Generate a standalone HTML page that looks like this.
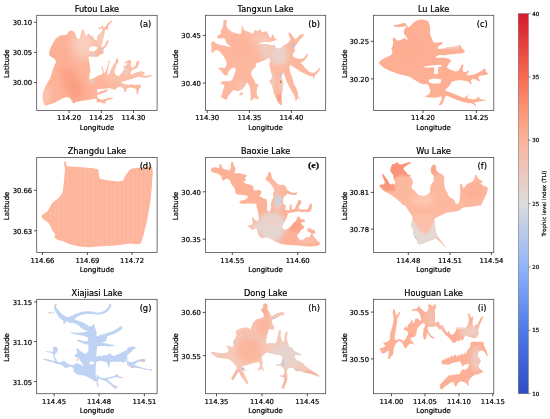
<!DOCTYPE html>
<html><head><meta charset="utf-8"><title>Lakes TLI</title>
<style>html,body{margin:0;padding:0;background:#fff}svg{display:block}text{stroke:#000;stroke-width:0.2px}</style></head>
<body>
<svg width="550" height="419" viewBox="0 0 550 419" font-family="'DejaVu Sans', 'Liberation Sans', sans-serif" fill="#000">
<rect width="550" height="419" fill="#fff"/>
<defs><filter id="b1" x="-50%" y="-50%" width="200%" height="200%"><feGaussianBlur stdDeviation="1.2"/></filter><filter id="b2" x="-50%" y="-50%" width="200%" height="200%"><feGaussianBlur stdDeviation="2.5"/></filter><filter id="b3" x="-50%" y="-50%" width="200%" height="200%"><feGaussianBlur stdDeviation="4"/></filter><filter id="b0" x="-50%" y="-50%" width="200%" height="200%"><feGaussianBlur stdDeviation="0.6"/></filter></defs>
<g id="panel-0">
<clipPath id="lk0"><path d="M56.0 63.3L56.0 62.1L55.0 59.3L52.3 57.6L50.3 56.2L49.0 54.5L49.1 52.2L49.8 49.9L50.7 47.6L51.5 45.9L53.2 42.5L55.3 39.3L57.8 37.0L60.7 35.6L64.1 35.0L67.0 34.7L68.1 32.2L69.8 30.8L72.1 30.8L74.4 32.0L75.6 34.5L76.4 37.3L77.9 39.3L80.1 38.5L80.5 35.6L81.3 32.2L82.4 29.3L83.6 29.7L84.2 32.2L85.3 35.6L86.5 37.3L87.6 35.0L88.7 33.6L89.9 35.0L91.0 36.2L92.4 35.6L93.1 37.3L94.5 39.3L96.2 40.8L97.3 41.3L97.3 56.4L88.3 56.4L88.7 59.1L89.2 63.3Z"/><path d="M89.6 36.4L91.0 36.8L92.4 36.2L92.8 37.3L91.9 38.2L93.3 39.5L94.6 40.9L96.0 41.4L96.9 39.5L97.4 37.3L97.8 35.5L99.2 34.5L100.5 32.7L101.9 31.4L102.8 29.5L102.4 28.2L100.5 28.6L99.2 29.1L98.3 28.2L98.7 27.3L100.1 27.5L101.5 26.8L102.2 25.0L102.8 25.5L103.1 27.3L104.2 27.7L105.5 26.4L106.9 25.0L107.8 23.6L109.2 22.3L111.0 20.7L112.2 20.5L112.4 21.1L111.0 22.5L109.6 24.1L108.5 25.6L107.8 27.3L108.3 29.1L107.4 30.0L106.0 29.1L104.9 30.0L104.6 31.8L104.4 33.6L103.7 35.9L103.3 38.2L102.8 40.5L102.4 42.7L101.5 45.0L101.0 46.8L102.4 47.3L103.7 46.4L104.9 45.0L105.5 43.2L106.5 41.4L107.4 40.0L108.3 40.2L108.3 41.8L107.4 43.8L106.5 45.9L105.3 47.3L104.2 48.6L103.3 50.0L103.7 51.4L103.3 53.2L102.4 54.5L101.0 54.1L99.8 55.0L98.7 55.9L97.8 56.8L96.5 56.4L95.1 55.9L93.7 56.4L92.4 55.9L91.0 55.5L90.5 54.1L89.6 53.6L88.7 55.0L88.3 56.4L87.8 58.0L85.1 58.0L85.1 42.7L84.6 35.0L86.0 36.4L87.4 35.0L88.3 33.6L89.2 34.5Z"/><path d="M55.7 62.7L54.3 65.9L53.0 69.3L51.8 72.7L50.7 76.7L49.5 79.6L47.5 82.5L45.7 85.9L44.3 89.3L43.1 92.8L42.7 96.2L42.9 99.7L43.8 102.5L44.9 105.2L46.9 105.6L49.2 104.5L52.1 103.7L54.9 102.5L57.8 101.0L60.7 99.4L63.5 97.9L66.4 97.1L68.7 97.4L70.4 98.5L71.8 100.8L72.9 103.3L74.4 103.1L76.1 101.7L78.4 101.4L81.3 100.8L84.2 100.6L87.6 100.2L91.0 99.4L94.5 98.7L97.3 98.5L97.3 76.3L93.3 78.5L89.4 79.6L89.2 76.3L89.8 73.0L90.6 70.2L90.0 67.5L89.4 62.7Z"/><path d="M96.7 75.8L99.3 75.4L101.6 74.5L103.0 72.7L102.2 69.3L101.4 66.2L102.0 65.9L103.0 68.7L103.9 72.2L104.8 73.1L105.9 71.0L107.1 67.6L108.2 63.6L108.9 63.6L108.2 67.6L107.3 71.6L107.1 73.9L108.5 74.7L109.8 73.5L110.8 70.4L112.1 67.6L113.6 64.7L114.8 62.7L116.7 62.7L116.3 65.3L115.3 68.2L114.4 71.0L114.8 73.5L116.3 75.4L118.2 76.2L119.7 75.4L121.1 73.5L122.8 71.6L124.3 69.3L124.5 67.4L123.1 67.1L122.9 66.4L125.1 66.2L126.6 64.7L128.0 63.6L130.3 62.7L130.9 64.1L130.5 66.2L132.0 67.4L134.3 67.0L135.8 65.3L136.2 62.7L138.5 62.7L138.5 64.7L137.7 67.0L135.8 68.5L133.1 69.6L131.2 71.2L130.0 73.5L131.2 74.5L134.8 73.3L138.9 71.7L142.3 71.4L144.2 72.2L144.6 73.3L143.1 74.5L141.7 75.1L144.9 76.1L148.4 75.6L151.3 74.9L152.0 75.7L149.3 76.7L145.8 77.7L142.4 77.4L139.4 76.5L136.2 77.2L132.8 78.4L129.3 79.5L125.9 80.6L122.5 81.8L120.6 82.9L124.5 84.1L128.9 85.0L131.4 84.3L133.7 85.0L137.1 84.8L139.9 84.8L141.1 85.9L140.7 87.5L139.0 88.4L138.4 91.6L137.8 94.6L136.7 94.3L136.6 91.2L136.0 88.9L133.7 88.0L131.4 87.6L129.1 87.6L126.7 88.4L126.0 91.1L125.2 92.6L124.2 91.6L124.2 89.1L122.6 88.0L120.6 86.8L118.3 87.1L116.0 88.4L114.8 89.9L113.1 89.1L110.8 88.4L107.9 88.2L103.9 88.8L100.4 89.1L96.7 88.9Z"/><path d="M96.7 93.0L100.4 91.6L103.9 90.3L106.7 89.2L108.0 89.8L106.9 91.4L103.9 92.6L101.0 93.7L98.1 94.8L96.7 95.3Z"/><path d="M96.7 97.4L98.7 98.5L101.0 99.7L103.9 99.4L106.7 98.5L109.6 97.7L112.5 97.5L112.9 98.4L110.3 99.4L107.3 100.3L105.3 101.4L105.7 103.1L104.1 103.8L101.6 102.6L99.3 101.9L96.7 102.5Z"/><path d="M108.2 63.3L108.5 60.8L109.4 60.6L109.6 63.3Z"/><path d="M115.3 63.3L115.9 60.3L116.7 58.3L117.9 58.5L118.3 60.8L118.1 63.3Z"/><path d="M123.6 63.3L125.7 62.0L127.7 60.6L130.0 60.1L131.2 61.4L131.4 63.3Z"/><path d="M136.6 63.3L137.1 61.1L138.0 60.4L139.0 61.3L139.0 63.3Z"/></clipPath><path d="M56.0 63.3L56.0 62.1L55.0 59.3L52.3 57.6L50.3 56.2L49.0 54.5L49.1 52.2L49.8 49.9L50.7 47.6L51.5 45.9L53.2 42.5L55.3 39.3L57.8 37.0L60.7 35.6L64.1 35.0L67.0 34.7L68.1 32.2L69.8 30.8L72.1 30.8L74.4 32.0L75.6 34.5L76.4 37.3L77.9 39.3L80.1 38.5L80.5 35.6L81.3 32.2L82.4 29.3L83.6 29.7L84.2 32.2L85.3 35.6L86.5 37.3L87.6 35.0L88.7 33.6L89.9 35.0L91.0 36.2L92.4 35.6L93.1 37.3L94.5 39.3L96.2 40.8L97.3 41.3L97.3 56.4L88.3 56.4L88.7 59.1L89.2 63.3Z" fill="#fdb49a"/><path d="M89.6 36.4L91.0 36.8L92.4 36.2L92.8 37.3L91.9 38.2L93.3 39.5L94.6 40.9L96.0 41.4L96.9 39.5L97.4 37.3L97.8 35.5L99.2 34.5L100.5 32.7L101.9 31.4L102.8 29.5L102.4 28.2L100.5 28.6L99.2 29.1L98.3 28.2L98.7 27.3L100.1 27.5L101.5 26.8L102.2 25.0L102.8 25.5L103.1 27.3L104.2 27.7L105.5 26.4L106.9 25.0L107.8 23.6L109.2 22.3L111.0 20.7L112.2 20.5L112.4 21.1L111.0 22.5L109.6 24.1L108.5 25.6L107.8 27.3L108.3 29.1L107.4 30.0L106.0 29.1L104.9 30.0L104.6 31.8L104.4 33.6L103.7 35.9L103.3 38.2L102.8 40.5L102.4 42.7L101.5 45.0L101.0 46.8L102.4 47.3L103.7 46.4L104.9 45.0L105.5 43.2L106.5 41.4L107.4 40.0L108.3 40.2L108.3 41.8L107.4 43.8L106.5 45.9L105.3 47.3L104.2 48.6L103.3 50.0L103.7 51.4L103.3 53.2L102.4 54.5L101.0 54.1L99.8 55.0L98.7 55.9L97.8 56.8L96.5 56.4L95.1 55.9L93.7 56.4L92.4 55.9L91.0 55.5L90.5 54.1L89.6 53.6L88.7 55.0L88.3 56.4L87.8 58.0L85.1 58.0L85.1 42.7L84.6 35.0L86.0 36.4L87.4 35.0L88.3 33.6L89.2 34.5Z" fill="#fdb49a"/><path d="M55.7 62.7L54.3 65.9L53.0 69.3L51.8 72.7L50.7 76.7L49.5 79.6L47.5 82.5L45.7 85.9L44.3 89.3L43.1 92.8L42.7 96.2L42.9 99.7L43.8 102.5L44.9 105.2L46.9 105.6L49.2 104.5L52.1 103.7L54.9 102.5L57.8 101.0L60.7 99.4L63.5 97.9L66.4 97.1L68.7 97.4L70.4 98.5L71.8 100.8L72.9 103.3L74.4 103.1L76.1 101.7L78.4 101.4L81.3 100.8L84.2 100.6L87.6 100.2L91.0 99.4L94.5 98.7L97.3 98.5L97.3 76.3L93.3 78.5L89.4 79.6L89.2 76.3L89.8 73.0L90.6 70.2L90.0 67.5L89.4 62.7Z" fill="#fdb49a"/><path d="M96.7 75.8L99.3 75.4L101.6 74.5L103.0 72.7L102.2 69.3L101.4 66.2L102.0 65.9L103.0 68.7L103.9 72.2L104.8 73.1L105.9 71.0L107.1 67.6L108.2 63.6L108.9 63.6L108.2 67.6L107.3 71.6L107.1 73.9L108.5 74.7L109.8 73.5L110.8 70.4L112.1 67.6L113.6 64.7L114.8 62.7L116.7 62.7L116.3 65.3L115.3 68.2L114.4 71.0L114.8 73.5L116.3 75.4L118.2 76.2L119.7 75.4L121.1 73.5L122.8 71.6L124.3 69.3L124.5 67.4L123.1 67.1L122.9 66.4L125.1 66.2L126.6 64.7L128.0 63.6L130.3 62.7L130.9 64.1L130.5 66.2L132.0 67.4L134.3 67.0L135.8 65.3L136.2 62.7L138.5 62.7L138.5 64.7L137.7 67.0L135.8 68.5L133.1 69.6L131.2 71.2L130.0 73.5L131.2 74.5L134.8 73.3L138.9 71.7L142.3 71.4L144.2 72.2L144.6 73.3L143.1 74.5L141.7 75.1L144.9 76.1L148.4 75.6L151.3 74.9L152.0 75.7L149.3 76.7L145.8 77.7L142.4 77.4L139.4 76.5L136.2 77.2L132.8 78.4L129.3 79.5L125.9 80.6L122.5 81.8L120.6 82.9L124.5 84.1L128.9 85.0L131.4 84.3L133.7 85.0L137.1 84.8L139.9 84.8L141.1 85.9L140.7 87.5L139.0 88.4L138.4 91.6L137.8 94.6L136.7 94.3L136.6 91.2L136.0 88.9L133.7 88.0L131.4 87.6L129.1 87.6L126.7 88.4L126.0 91.1L125.2 92.6L124.2 91.6L124.2 89.1L122.6 88.0L120.6 86.8L118.3 87.1L116.0 88.4L114.8 89.9L113.1 89.1L110.8 88.4L107.9 88.2L103.9 88.8L100.4 89.1L96.7 88.9Z" fill="#fdb49a"/><path d="M96.7 93.0L100.4 91.6L103.9 90.3L106.7 89.2L108.0 89.8L106.9 91.4L103.9 92.6L101.0 93.7L98.1 94.8L96.7 95.3Z" fill="#fdb49a"/><path d="M96.7 97.4L98.7 98.5L101.0 99.7L103.9 99.4L106.7 98.5L109.6 97.7L112.5 97.5L112.9 98.4L110.3 99.4L107.3 100.3L105.3 101.4L105.7 103.1L104.1 103.8L101.6 102.6L99.3 101.9L96.7 102.5Z" fill="#fdb49a"/><path d="M108.2 63.3L108.5 60.8L109.4 60.6L109.6 63.3Z" fill="#fdb49a"/><path d="M115.3 63.3L115.9 60.3L116.7 58.3L117.9 58.5L118.3 60.8L118.1 63.3Z" fill="#fdb49a"/><path d="M123.6 63.3L125.7 62.0L127.7 60.6L130.0 60.1L131.2 61.4L131.4 63.3Z" fill="#fdb49a"/><path d="M136.6 63.3L137.1 61.1L138.0 60.4L139.0 61.3L139.0 63.3Z" fill="#fdb49a"/><g clip-path="url(#lk0)"><ellipse cx="83.6" cy="44.5" rx="11.8" ry="14.1" fill="#f9d2c4" opacity="0.9" filter="url(#b3)"/><ellipse cx="101.8" cy="37.7" rx="5.0" ry="10.2" fill="#f6d3c8" opacity="0.8" filter="url(#b2)"/><ellipse cx="93.8" cy="54.7" rx="2.9" ry="1.6" fill="#d3d6dc" opacity="0.95" filter="url(#b1)"/><ellipse cx="102.4" cy="50.4" rx="1.6" ry="1.4" fill="#d3d6dc" opacity="0.9" filter="url(#b0)"/><ellipse cx="91.8" cy="81.2" rx="3.2" ry="1.8" fill="#e2d2cd" opacity="0.9" filter="url(#b1)"/><ellipse cx="126.7" cy="74.4" rx="24.9" ry="12.5" fill="#fcc6b2" opacity="0.65" filter="url(#b3)"/><ellipse cx="125.6" cy="71.0" rx="2.5" ry="3.2" fill="#e8d3cb" opacity="0.85" filter="url(#b1)"/><ellipse cx="123.5" cy="85.7" rx="3.4" ry="1.4" fill="#ecd0c6" opacity="0.9" filter="url(#b1)"/><ellipse cx="113.1" cy="68.1" rx="1.4" ry="2.7" fill="#ecd0c6" opacity="0.8" filter="url(#b1)"/><path d="M59.8 67.1L70.0 68.3L81.4 80.8L84.8 94.4L79.1 103.4L70.0 98.9L63.2 83.0Z" fill="#fb9c80" opacity="0.9" filter="url(#b3)"/><ellipse cx="60.9" cy="53.5" rx="7.9" ry="10.2" fill="#fca98d" opacity="0.5" filter="url(#b3)"/><ellipse cx="45.5" cy="95.5" rx="5.4" ry="10.2" fill="#fcc6b2" opacity="0.8" filter="url(#b2)"/></g><path d="M89.6 48.2L91.0 46.8L93.3 46.4L95.5 46.5L97.1 47.3L97.6 48.6L96.5 49.5L95.1 50.5L94.2 51.4L92.8 51.4L91.9 50.5L91.0 51.4L89.6 50.9L88.9 49.5Z" fill="#fff"/>
<rect x="36.7" y="15.3" width="120.4" height="95.1" fill="none" stroke="#444" stroke-width="0.75"/>
<path d="M69.1 110.4v2.6M101.3 110.4v2.6M133.5 110.4v2.6M36.7 22.3h-2.6M36.7 52.4h-2.6M36.7 82.5h-2.6" stroke="#222" stroke-width="0.8" fill="none"/>
<text x="69.1" y="120.4" font-size="6.86" text-anchor="middle">114.20</text>
<text x="101.3" y="120.4" font-size="6.86" text-anchor="middle">114.25</text>
<text x="133.5" y="120.4" font-size="6.86" text-anchor="middle">114.30</text>
<text x="32.2" y="25.2" font-size="6.840000000000001" text-anchor="end">30.10</text>
<text x="32.2" y="55.2" font-size="6.840000000000001" text-anchor="end">30.05</text>
<text x="32.2" y="85.3" font-size="6.840000000000001" text-anchor="end">30.00</text>
<text x="96.9" y="11.6" font-size="8.2" text-anchor="middle">Futou Lake</text>
<text x="96.9" y="129.9" font-size="6.94" text-anchor="middle">Longitude</text>
<text transform="translate(9.2 63.8) rotate(-90)" font-size="6.94" text-anchor="middle">Latitude</text>
<text x="145.5" y="26.9" font-size="8.3" text-anchor="middle">(a)</text>
</g>
<g id="panel-1">
<clipPath id="lk1"><path d="M226.8 63.3L225.6 59.7L223.9 56.8L222.2 54.5L220.5 52.8L218.8 51.1L217.0 49.9L215.3 50.5L213.6 51.7L212.1 53.4L211.3 50.5L211.7 47.6L211.0 44.8L211.3 42.5L212.5 41.1L213.9 41.3L215.3 42.7L217.8 43.9L221.1 45.1L224.5 45.8L227.9 46.6L231.6 47.2L229.7 45.7L227.5 44.1L225.9 41.9L225.2 39.3L223.3 38.1L219.3 38.8L217.2 37.7L217.4 35.8L219.3 34.7L221.1 33.3L220.6 31.3L221.7 29.3L222.9 26.5L223.3 23.2L223.3 20.7L225.1 19.8L227.0 20.5L226.8 22.4L226.3 25.3L227.5 28.2L229.8 30.5L232.5 32.2L236.0 33.3L239.4 33.9L241.3 33.3L241.6 29.9L241.8 26.5L242.8 26.1L243.5 29.3L244.7 30.6L247.0 31.2L249.3 32.2L251.6 33.3L253.2 33.9L253.8 31.6L255.0 29.9L256.6 31.0L258.3 30.5L260.0 29.3L261.2 30.5L261.8 32.2L263.5 32.2L266.3 31.0L266.3 41.9L262.3 42.2L259.5 42.7L259.1 43.6L261.2 44.3L266.3 44.3L266.3 59.4L262.3 61.1L258.9 62.4L256.0 63.3Z"/><path d="M265.7 44.3L269.4 44.8L272.3 45.7L273.8 44.6L274.9 46.2L276.3 48.2L277.5 48.8L280.3 48.2L282.6 46.5L284.9 44.8L287.2 43.6L288.9 41.9L290.4 39.6L289.4 36.2L288.2 33.3L289.4 32.2L291.2 33.9L292.9 36.2L294.2 37.9L295.4 39.4L297.5 37.3L299.8 35.0L302.1 34.1L304.0 34.6L302.8 36.8L300.5 39.1L298.8 41.3L297.1 43.6L295.4 45.9L294.2 48.2L295.4 50.5L293.6 52.8L292.6 55.7L294.7 57.4L297.5 58.5L300.4 59.1L303.8 58.0L305.6 55.7L306.8 53.7L308.0 54.4L306.8 57.4L305.1 59.7L302.8 61.4L300.4 63.3L270.6 63.3L270.1 60.8L269.4 58.0L267.1 58.5L265.7 59.2Z"/><path d="M265.7 31.0L267.1 32.2L268.1 33.9L269.2 36.8L270.8 37.9L272.0 35.4L272.9 34.2L273.8 36.2L274.7 38.5L277.0 39.1L275.4 40.4L272.9 41.1L270.8 41.9L265.7 42.0Z"/><path d="M227.0 62.7L226.2 65.9L224.5 68.2L222.2 67.8L219.9 67.6L218.2 68.2L219.3 69.6L221.1 70.4L222.2 72.7L223.9 74.5L226.2 75.8L227.7 74.5L228.4 72.2L229.7 69.9L231.9 68.2L235.0 67.6L235.7 69.9L234.6 73.3L233.4 76.7L232.1 80.0L229.7 81.3L226.8 81.1L223.9 81.3L221.1 81.6L220.5 83.0L222.2 84.2L224.5 85.3L223.9 87.6L222.8 90.5L222.2 93.4L221.1 96.2L222.0 97.9L224.5 99.1L226.2 99.9L227.4 97.9L228.5 95.6L230.2 93.4L231.9 91.6L233.7 90.0L235.7 90.6L237.7 91.2L239.6 90.5L242.3 89.3L244.6 86.5L246.3 83.4L247.7 82.7L249.1 85.3L250.3 88.8L250.3 92.8L250.9 96.2L250.3 99.1L250.9 100.8L252.6 99.7L254.3 97.9L256.6 98.7L258.9 99.2L258.7 97.4L257.2 95.6L256.6 91.6L257.2 87.6L258.7 85.3L258.0 83.6L256.1 84.3L254.5 80.4L252.2 77.0L250.9 74.5L251.8 71.0L253.2 68.7L255.5 67.6L256.0 65.3L255.5 62.7Z"/><path d="M240.5 92.8L242.3 92.2L243.1 93.4L241.7 95.1L240.0 95.6L239.2 94.5Z"/><path d="M268.9 62.7L270.0 67.6L271.2 72.2L272.3 76.7L270.8 80.0L269.4 80.2L270.1 82.5L271.2 84.3L272.0 85.3L272.9 89.3L273.5 92.8L275.2 96.2L276.9 99.7L278.0 102.5L279.8 104.8L281.5 105.6L282.1 103.1L281.8 99.7L281.5 96.2L282.1 92.8L282.6 89.3L283.0 85.9L283.2 83.6L282.3 80.2L281.8 76.7L282.6 73.9L283.4 73.1L284.9 76.7L286.6 81.3L288.9 85.9L291.2 90.5L294.1 95.1L295.2 98.5L295.6 101.0L296.7 100.3L297.5 98.1L299.8 97.4L300.4 98.5L298.8 99.4L298.3 96.2L297.6 91.6L295.9 87.6L293.7 83.6L293.1 80.2L291.9 76.7L290.8 73.3L289.8 69.9L289.4 67.0L290.3 65.1L293.5 67.0L297.0 69.3L300.4 71.6L303.8 73.3L307.3 75.0L310.1 76.2L312.4 75.8L313.0 78.5L313.9 78.8L314.7 75.8L316.5 73.9L318.2 72.2L319.7 69.9L320.1 68.2L319.4 67.8L318.2 69.3L316.5 71.0L314.7 72.4L312.4 73.1L310.1 71.9L307.9 71.0L306.7 68.7L305.0 68.2L304.4 66.4L302.7 64.7L300.4 62.7Z"/></clipPath><path d="M226.8 63.3L225.6 59.7L223.9 56.8L222.2 54.5L220.5 52.8L218.8 51.1L217.0 49.9L215.3 50.5L213.6 51.7L212.1 53.4L211.3 50.5L211.7 47.6L211.0 44.8L211.3 42.5L212.5 41.1L213.9 41.3L215.3 42.7L217.8 43.9L221.1 45.1L224.5 45.8L227.9 46.6L231.6 47.2L229.7 45.7L227.5 44.1L225.9 41.9L225.2 39.3L223.3 38.1L219.3 38.8L217.2 37.7L217.4 35.8L219.3 34.7L221.1 33.3L220.6 31.3L221.7 29.3L222.9 26.5L223.3 23.2L223.3 20.7L225.1 19.8L227.0 20.5L226.8 22.4L226.3 25.3L227.5 28.2L229.8 30.5L232.5 32.2L236.0 33.3L239.4 33.9L241.3 33.3L241.6 29.9L241.8 26.5L242.8 26.1L243.5 29.3L244.7 30.6L247.0 31.2L249.3 32.2L251.6 33.3L253.2 33.9L253.8 31.6L255.0 29.9L256.6 31.0L258.3 30.5L260.0 29.3L261.2 30.5L261.8 32.2L263.5 32.2L266.3 31.0L266.3 41.9L262.3 42.2L259.5 42.7L259.1 43.6L261.2 44.3L266.3 44.3L266.3 59.4L262.3 61.1L258.9 62.4L256.0 63.3Z" fill="#fdb9a0"/><path d="M265.7 44.3L269.4 44.8L272.3 45.7L273.8 44.6L274.9 46.2L276.3 48.2L277.5 48.8L280.3 48.2L282.6 46.5L284.9 44.8L287.2 43.6L288.9 41.9L290.4 39.6L289.4 36.2L288.2 33.3L289.4 32.2L291.2 33.9L292.9 36.2L294.2 37.9L295.4 39.4L297.5 37.3L299.8 35.0L302.1 34.1L304.0 34.6L302.8 36.8L300.5 39.1L298.8 41.3L297.1 43.6L295.4 45.9L294.2 48.2L295.4 50.5L293.6 52.8L292.6 55.7L294.7 57.4L297.5 58.5L300.4 59.1L303.8 58.0L305.6 55.7L306.8 53.7L308.0 54.4L306.8 57.4L305.1 59.7L302.8 61.4L300.4 63.3L270.6 63.3L270.1 60.8L269.4 58.0L267.1 58.5L265.7 59.2Z" fill="#fdb9a0"/><path d="M265.7 31.0L267.1 32.2L268.1 33.9L269.2 36.8L270.8 37.9L272.0 35.4L272.9 34.2L273.8 36.2L274.7 38.5L277.0 39.1L275.4 40.4L272.9 41.1L270.8 41.9L265.7 42.0Z" fill="#fdb9a0"/><path d="M227.0 62.7L226.2 65.9L224.5 68.2L222.2 67.8L219.9 67.6L218.2 68.2L219.3 69.6L221.1 70.4L222.2 72.7L223.9 74.5L226.2 75.8L227.7 74.5L228.4 72.2L229.7 69.9L231.9 68.2L235.0 67.6L235.7 69.9L234.6 73.3L233.4 76.7L232.1 80.0L229.7 81.3L226.8 81.1L223.9 81.3L221.1 81.6L220.5 83.0L222.2 84.2L224.5 85.3L223.9 87.6L222.8 90.5L222.2 93.4L221.1 96.2L222.0 97.9L224.5 99.1L226.2 99.9L227.4 97.9L228.5 95.6L230.2 93.4L231.9 91.6L233.7 90.0L235.7 90.6L237.7 91.2L239.6 90.5L242.3 89.3L244.6 86.5L246.3 83.4L247.7 82.7L249.1 85.3L250.3 88.8L250.3 92.8L250.9 96.2L250.3 99.1L250.9 100.8L252.6 99.7L254.3 97.9L256.6 98.7L258.9 99.2L258.7 97.4L257.2 95.6L256.6 91.6L257.2 87.6L258.7 85.3L258.0 83.6L256.1 84.3L254.5 80.4L252.2 77.0L250.9 74.5L251.8 71.0L253.2 68.7L255.5 67.6L256.0 65.3L255.5 62.7Z" fill="#fdb9a0"/><path d="M240.5 92.8L242.3 92.2L243.1 93.4L241.7 95.1L240.0 95.6L239.2 94.5Z" fill="#fdb9a0"/><path d="M268.9 62.7L270.0 67.6L271.2 72.2L272.3 76.7L270.8 80.0L269.4 80.2L270.1 82.5L271.2 84.3L272.0 85.3L272.9 89.3L273.5 92.8L275.2 96.2L276.9 99.7L278.0 102.5L279.8 104.8L281.5 105.6L282.1 103.1L281.8 99.7L281.5 96.2L282.1 92.8L282.6 89.3L283.0 85.9L283.2 83.6L282.3 80.2L281.8 76.7L282.6 73.9L283.4 73.1L284.9 76.7L286.6 81.3L288.9 85.9L291.2 90.5L294.1 95.1L295.2 98.5L295.6 101.0L296.7 100.3L297.5 98.1L299.8 97.4L300.4 98.5L298.8 99.4L298.3 96.2L297.6 91.6L295.9 87.6L293.7 83.6L293.1 80.2L291.9 76.7L290.8 73.3L289.8 69.9L289.4 67.0L290.3 65.1L293.5 67.0L297.0 69.3L300.4 71.6L303.8 73.3L307.3 75.0L310.1 76.2L312.4 75.8L313.0 78.5L313.9 78.8L314.7 75.8L316.5 73.9L318.2 72.2L319.7 69.9L320.1 68.2L319.4 67.8L318.2 69.3L316.5 71.0L314.7 72.4L312.4 73.1L310.1 71.9L307.9 71.0L306.7 68.7L305.0 68.2L304.4 66.4L302.7 64.7L300.4 62.7Z" fill="#fdb9a0"/><g clip-path="url(#lk1)"><ellipse cx="278.5" cy="54.7" rx="9.5" ry="10.9" fill="#ead3cb" opacity="0.95" filter="url(#b2)"/><ellipse cx="265.3" cy="49.0" rx="6.3" ry="11.3" fill="#efcdc2" opacity="0.9" filter="url(#b2)"/><ellipse cx="259.4" cy="39.9" rx="7.9" ry="6.8" fill="#f8d0c2" opacity="0.7" filter="url(#b3)"/><ellipse cx="277.1" cy="80.8" rx="2.3" ry="15.9" fill="#fdb9a2" opacity="0.9" filter="url(#b1)"/><ellipse cx="273.0" cy="83.0" rx="1.8" ry="11.3" fill="#ead3cb" opacity="0.8" filter="url(#b1)"/><ellipse cx="281.6" cy="83.0" rx="1.8" ry="11.3" fill="#ead3cb" opacity="0.8" filter="url(#b1)"/><ellipse cx="279.2" cy="97.8" rx="1.8" ry="4.1" fill="#f78e72" opacity="0.8" filter="url(#b1)"/><ellipse cx="280.7" cy="81.9" rx="0.9" ry="1.4" fill="#f26a4a" opacity="0.9" filter="url(#b0)"/><ellipse cx="280.5" cy="75.1" rx="0.7" ry="2.3" fill="#a9c4ee" opacity="0.9" filter="url(#b0)"/><ellipse cx="293.0" cy="45.6" rx="1.4" ry="2.0" fill="#a9c4ee" opacity="0.9" filter="url(#b0)"/><ellipse cx="241.3" cy="89.8" rx="3.2" ry="9.1" fill="#f4c4b5" opacity="0.7" filter="url(#b1)"/><ellipse cx="239.0" cy="49.0" rx="13.6" ry="11.3" fill="#fdb096" opacity="0.5" filter="url(#b3)"/></g>
<rect x="205.4" y="15.3" width="120.3" height="95.1" fill="none" stroke="#444" stroke-width="0.75"/>
<path d="M207.2 110.4v2.6M249.4 110.4v2.6M291.4 110.4v2.6M205.4 35.4h-2.6M205.4 83.1h-2.6" stroke="#222" stroke-width="0.8" fill="none"/>
<text x="207.2" y="120.4" font-size="6.86" text-anchor="middle">114.30</text>
<text x="249.4" y="120.4" font-size="6.86" text-anchor="middle">114.35</text>
<text x="291.4" y="120.4" font-size="6.86" text-anchor="middle">114.40</text>
<text x="200.9" y="38.2" font-size="6.840000000000001" text-anchor="end">30.45</text>
<text x="200.9" y="85.9" font-size="6.840000000000001" text-anchor="end">30.40</text>
<text x="265.6" y="11.6" font-size="8.2" text-anchor="middle">Tangxun Lake</text>
<text x="265.6" y="129.9" font-size="6.94" text-anchor="middle">Longitude</text>
<text transform="translate(178.0 63.8) rotate(-90)" font-size="6.94" text-anchor="middle">Latitude</text>
<text x="314.1" y="26.9" font-size="8.3" text-anchor="middle">(b)</text>
</g>
<g id="panel-2">
<clipPath id="lk2"><path d="M378.2 63.3L381.0 60.3L384.5 58.0L387.9 56.5L390.2 55.7L391.9 53.9L392.5 51.1L391.3 48.8L392.7 45.9L393.1 42.5L392.7 38.5L393.6 37.3L395.4 39.1L397.7 40.8L400.5 40.2L402.8 39.1L404.5 37.9L406.3 39.6L407.6 41.1L407.4 38.5L405.7 36.2L404.2 33.9L403.7 31.6L404.5 29.3L406.3 27.0L405.7 25.9L403.4 26.5L400.5 27.0L397.1 27.0L394.2 26.5L393.1 25.5L395.4 25.1L398.8 24.4L401.7 23.6L404.0 22.8L405.7 23.6L407.2 25.9L408.5 27.6L409.9 26.5L411.4 24.7L413.1 23.0L414.9 21.6L417.1 20.5L420.0 19.6L422.9 19.4L425.7 20.2L428.0 21.3L429.2 23.6L429.8 26.5L430.3 29.3L429.8 32.2L430.3 35.0L431.5 37.9L432.6 40.8L434.3 43.1L434.3 63.3Z"/><path d="M433.7 43.1L437.4 42.5L440.9 42.3L443.2 42.5L442.0 44.2L439.7 45.4L438.0 46.5L437.4 48.2L439.7 49.1L443.2 48.8L446.6 47.6L450.1 47.1L453.5 46.8L456.9 46.2L459.2 45.0L460.9 45.4L461.5 47.6L463.2 49.4L465.2 51.4L463.8 52.8L460.9 53.4L456.9 53.7L452.9 54.2L448.9 54.5L445.5 55.1L442.6 55.3L440.3 54.8L438.6 55.3L436.3 56.5L435.1 57.6L438.6 58.0L443.2 57.6L446.6 58.3L449.5 59.1L451.2 60.8L450.3 62.2L448.7 63.3L433.7 63.3Z"/><path d="M378.7 62.7L381.6 65.9L384.5 68.2L389.1 70.4L393.6 72.2L398.2 73.9L402.8 75.0L407.4 76.2L410.8 77.3L413.1 79.0L416.0 80.8L418.9 82.5L421.2 83.8L424.0 84.3L426.9 84.1L428.6 85.0L429.2 87.6L430.3 90.5L429.8 93.0L428.0 95.1L424.6 96.0L426.0 97.1L429.8 97.4L434.3 97.4L434.3 62.7Z"/><path d="M433.7 62.7L448.9 62.7L448.3 65.3L446.6 67.0L448.9 68.7L452.3 70.4L455.8 71.6L458.1 71.0L459.8 68.7L460.9 66.4L462.1 64.4L463.6 64.7L463.2 67.0L462.4 69.3L463.2 71.6L465.5 72.2L467.8 70.4L469.0 71.0L467.8 73.3L466.1 74.5L468.4 75.6L471.8 75.0L475.3 73.9L478.1 72.7L480.4 71.6L482.7 69.9L484.5 68.2L485.6 69.3L485.8 71.6L487.7 73.3L487.9 74.5L485.6 75.0L482.7 75.4L479.9 75.8L478.1 77.3L479.3 79.6L479.9 81.1L478.1 81.3L476.4 80.0L474.7 79.0L472.4 79.3L470.7 80.2L471.3 82.5L471.6 84.5L470.5 84.5L469.3 82.5L467.3 81.3L464.4 80.8L461.5 80.2L458.7 80.2L455.8 80.8L452.9 81.3L451.2 82.5L450.1 84.8L448.3 87.1L446.0 89.1L444.9 90.3L447.8 91.4L451.2 92.8L454.6 94.2L458.1 95.6L461.5 97.1L464.4 97.9L466.1 96.2L467.3 95.1L467.9 96.2L467.0 97.9L469.5 98.7L473.0 99.4L475.9 99.1L477.6 97.4L478.7 96.8L479.3 98.5L482.2 99.7L485.0 99.7L486.2 100.3L484.5 101.0L481.6 101.0L479.3 101.4L477.6 101.9L475.3 101.9L474.1 103.1L475.9 104.5L476.4 105.6L474.7 105.4L473.0 104.0L470.7 103.1L468.4 103.3L465.5 102.5L462.7 101.9L459.8 100.8L456.9 99.9L454.1 98.7L451.2 97.4L448.3 96.2L446.0 95.6L444.9 97.4L443.7 100.2L443.2 102.5L442.0 104.2L439.7 105.6L438.6 104.8L440.3 102.5L441.5 99.7L441.8 97.4L440.9 96.2L438.6 97.1L436.3 97.6L433.7 97.9Z"/></clipPath><path d="M378.2 63.3L381.0 60.3L384.5 58.0L387.9 56.5L390.2 55.7L391.9 53.9L392.5 51.1L391.3 48.8L392.7 45.9L393.1 42.5L392.7 38.5L393.6 37.3L395.4 39.1L397.7 40.8L400.5 40.2L402.8 39.1L404.5 37.9L406.3 39.6L407.6 41.1L407.4 38.5L405.7 36.2L404.2 33.9L403.7 31.6L404.5 29.3L406.3 27.0L405.7 25.9L403.4 26.5L400.5 27.0L397.1 27.0L394.2 26.5L393.1 25.5L395.4 25.1L398.8 24.4L401.7 23.6L404.0 22.8L405.7 23.6L407.2 25.9L408.5 27.6L409.9 26.5L411.4 24.7L413.1 23.0L414.9 21.6L417.1 20.5L420.0 19.6L422.9 19.4L425.7 20.2L428.0 21.3L429.2 23.6L429.8 26.5L430.3 29.3L429.8 32.2L430.3 35.0L431.5 37.9L432.6 40.8L434.3 43.1L434.3 63.3Z" fill="#fdaf94"/><path d="M433.7 43.1L437.4 42.5L440.9 42.3L443.2 42.5L442.0 44.2L439.7 45.4L438.0 46.5L437.4 48.2L439.7 49.1L443.2 48.8L446.6 47.6L450.1 47.1L453.5 46.8L456.9 46.2L459.2 45.0L460.9 45.4L461.5 47.6L463.2 49.4L465.2 51.4L463.8 52.8L460.9 53.4L456.9 53.7L452.9 54.2L448.9 54.5L445.5 55.1L442.6 55.3L440.3 54.8L438.6 55.3L436.3 56.5L435.1 57.6L438.6 58.0L443.2 57.6L446.6 58.3L449.5 59.1L451.2 60.8L450.3 62.2L448.7 63.3L433.7 63.3Z" fill="#fdaf94"/><path d="M378.7 62.7L381.6 65.9L384.5 68.2L389.1 70.4L393.6 72.2L398.2 73.9L402.8 75.0L407.4 76.2L410.8 77.3L413.1 79.0L416.0 80.8L418.9 82.5L421.2 83.8L424.0 84.3L426.9 84.1L428.6 85.0L429.2 87.6L430.3 90.5L429.8 93.0L428.0 95.1L424.6 96.0L426.0 97.1L429.8 97.4L434.3 97.4L434.3 62.7Z" fill="#fdaf94"/><path d="M433.7 62.7L448.9 62.7L448.3 65.3L446.6 67.0L448.9 68.7L452.3 70.4L455.8 71.6L458.1 71.0L459.8 68.7L460.9 66.4L462.1 64.4L463.6 64.7L463.2 67.0L462.4 69.3L463.2 71.6L465.5 72.2L467.8 70.4L469.0 71.0L467.8 73.3L466.1 74.5L468.4 75.6L471.8 75.0L475.3 73.9L478.1 72.7L480.4 71.6L482.7 69.9L484.5 68.2L485.6 69.3L485.8 71.6L487.7 73.3L487.9 74.5L485.6 75.0L482.7 75.4L479.9 75.8L478.1 77.3L479.3 79.6L479.9 81.1L478.1 81.3L476.4 80.0L474.7 79.0L472.4 79.3L470.7 80.2L471.3 82.5L471.6 84.5L470.5 84.5L469.3 82.5L467.3 81.3L464.4 80.8L461.5 80.2L458.7 80.2L455.8 80.8L452.9 81.3L451.2 82.5L450.1 84.8L448.3 87.1L446.0 89.1L444.9 90.3L447.8 91.4L451.2 92.8L454.6 94.2L458.1 95.6L461.5 97.1L464.4 97.9L466.1 96.2L467.3 95.1L467.9 96.2L467.0 97.9L469.5 98.7L473.0 99.4L475.9 99.1L477.6 97.4L478.7 96.8L479.3 98.5L482.2 99.7L485.0 99.7L486.2 100.3L484.5 101.0L481.6 101.0L479.3 101.4L477.6 101.9L475.3 101.9L474.1 103.1L475.9 104.5L476.4 105.6L474.7 105.4L473.0 104.0L470.7 103.1L468.4 103.3L465.5 102.5L462.7 101.9L459.8 100.8L456.9 99.9L454.1 98.7L451.2 97.4L448.3 96.2L446.0 95.6L444.9 97.4L443.7 100.2L443.2 102.5L442.0 104.2L439.7 105.6L438.6 104.8L440.3 102.5L441.5 99.7L441.8 97.4L440.9 96.2L438.6 97.1L436.3 97.6L433.7 97.9Z" fill="#fdaf94"/><g clip-path="url(#lk2)"><ellipse cx="451.2" cy="46.7" rx="9.1" ry="2.3" fill="#f7d0c3" opacity="0.9" filter="url(#b1)"/><ellipse cx="407.0" cy="49.0" rx="13.6" ry="13.6" fill="#fdab8f" opacity="0.4" filter="url(#b3)"/></g><path d="M424.1 66.6L428.6 65.7L434.5 65.2L441.2 64.8L441.4 66.6L438.2 67.0L437.9 74.1L434.1 74.1L434.3 67.3L428.6 67.4L424.3 67.4Z" fill="#fff"/><path d="M429.4 79.4L433.2 78.6L440.5 78.9L441.4 81.4L439.7 83.4L433.2 83.5L429.5 82.7L428.6 80.9Z" fill="#fff"/>
<rect x="373.5" y="15.3" width="120.3" height="95.1" fill="none" stroke="#444" stroke-width="0.75"/>
<path d="M423.0 110.4v2.6M476.4 110.4v2.6M373.5 41.3h-2.6M373.5 78.9h-2.6" stroke="#222" stroke-width="0.8" fill="none"/>
<text x="423.0" y="120.4" font-size="6.86" text-anchor="middle">114.20</text>
<text x="476.4" y="120.4" font-size="6.86" text-anchor="middle">114.25</text>
<text x="369.0" y="44.1" font-size="6.840000000000001" text-anchor="end">30.25</text>
<text x="369.0" y="81.8" font-size="6.840000000000001" text-anchor="end">30.20</text>
<text x="433.6" y="11.6" font-size="8.2" text-anchor="middle">Lu Lake</text>
<text x="433.6" y="129.9" font-size="6.94" text-anchor="middle">Longitude</text>
<text transform="translate(346.6 63.8) rotate(-90)" font-size="6.94" text-anchor="middle">Latitude</text>
<text x="482.2" y="26.9" font-size="8.3" text-anchor="middle">(c)</text>
</g>
<g id="panel-3">
<clipPath id="lk3"><path d="M63.7 162.0L65.5 161.5L66.6 166.1L70.0 166.5L81.4 167.2L92.7 168.3L98.4 169.5L99.0 174.0L99.5 178.5L104.0 179.7L110.8 180.8L117.6 181.5L123.3 180.8L124.9 176.3L126.7 174.0L129.0 170.6L131.2 168.8L136.9 167.9L142.6 167.2L149.4 166.5L152.1 167.2L152.8 172.9L152.1 179.7L151.7 186.5L151.2 193.3L150.5 200.1L149.4 206.9L148.2 213.7L147.1 220.5L145.3 227.3L143.7 234.1L142.1 239.8L140.8 243.6L136.9 244.3L131.2 243.6L124.4 244.3L115.4 245.4L106.3 245.9L97.2 246.6L88.2 247.2L79.1 246.6L70.0 244.3L63.2 241.3L57.5 239.8L54.6 237.5L55.3 234.1L52.3 230.7L50.7 226.2L48.5 222.8L45.1 220.5L42.3 218.2L41.7 215.5L43.9 213.7L47.3 211.4L49.6 208.0L51.9 203.5L54.1 201.2L57.5 198.9L60.9 195.5L62.8 191.0L63.7 184.2L64.3 177.4L65.0 170.6L64.6 166.1Z"/></clipPath><path d="M63.7 162.0L65.5 161.5L66.6 166.1L70.0 166.5L81.4 167.2L92.7 168.3L98.4 169.5L99.0 174.0L99.5 178.5L104.0 179.7L110.8 180.8L117.6 181.5L123.3 180.8L124.9 176.3L126.7 174.0L129.0 170.6L131.2 168.8L136.9 167.9L142.6 167.2L149.4 166.5L152.1 167.2L152.8 172.9L152.1 179.7L151.7 186.5L151.2 193.3L150.5 200.1L149.4 206.9L148.2 213.7L147.1 220.5L145.3 227.3L143.7 234.1L142.1 239.8L140.8 243.6L136.9 244.3L131.2 243.6L124.4 244.3L115.4 245.4L106.3 245.9L97.2 246.6L88.2 247.2L79.1 246.6L70.0 244.3L63.2 241.3L57.5 239.8L54.6 237.5L55.3 234.1L52.3 230.7L50.7 226.2L48.5 222.8L45.1 220.5L42.3 218.2L41.7 215.5L43.9 213.7L47.3 211.4L49.6 208.0L51.9 203.5L54.1 201.2L57.5 198.9L60.9 195.5L62.8 191.0L63.7 184.2L64.3 177.4L65.0 170.6L64.6 166.1Z" fill="#fdb096"/><g clip-path="url(#lk3)"><rect x="36.00" y="157" width="0.55" height="96" fill="#ffd2be" opacity="0.5"/><rect x="37.30" y="157" width="0.55" height="96" fill="#ffd2be" opacity="0.5"/><rect x="38.60" y="157" width="0.55" height="96" fill="#ffd2be" opacity="0.5"/><rect x="39.90" y="157" width="0.55" height="96" fill="#ffd2be" opacity="0.5"/><rect x="41.20" y="157" width="0.55" height="96" fill="#ffd2be" opacity="0.5"/><rect x="42.50" y="157" width="0.55" height="96" fill="#ffd2be" opacity="0.5"/><rect x="43.80" y="157" width="0.55" height="96" fill="#ffd2be" opacity="0.5"/><rect x="45.10" y="157" width="0.55" height="96" fill="#ffd2be" opacity="0.5"/><rect x="46.40" y="157" width="0.55" height="96" fill="#ffd2be" opacity="0.5"/><rect x="47.70" y="157" width="0.55" height="96" fill="#ffd2be" opacity="0.5"/><rect x="49.00" y="157" width="0.55" height="96" fill="#ffd2be" opacity="0.5"/><rect x="50.30" y="157" width="0.55" height="96" fill="#ffd2be" opacity="0.5"/><rect x="51.60" y="157" width="0.55" height="96" fill="#ffd2be" opacity="0.5"/><rect x="52.90" y="157" width="0.55" height="96" fill="#ffd2be" opacity="0.5"/><rect x="54.20" y="157" width="0.55" height="96" fill="#ffd2be" opacity="0.5"/><rect x="55.50" y="157" width="0.55" height="96" fill="#ffd2be" opacity="0.5"/><rect x="56.80" y="157" width="0.55" height="96" fill="#ffd2be" opacity="0.5"/><rect x="58.10" y="157" width="0.55" height="96" fill="#ffd2be" opacity="0.5"/><rect x="59.40" y="157" width="0.55" height="96" fill="#ffd2be" opacity="0.5"/><rect x="60.70" y="157" width="0.55" height="96" fill="#ffd2be" opacity="0.5"/><rect x="62.00" y="157" width="0.55" height="96" fill="#ffd2be" opacity="0.5"/><rect x="63.30" y="157" width="0.55" height="96" fill="#ffd2be" opacity="0.5"/><rect x="64.60" y="157" width="0.55" height="96" fill="#ffd2be" opacity="0.5"/><rect x="65.90" y="157" width="0.55" height="96" fill="#ffd2be" opacity="0.5"/><rect x="67.20" y="157" width="0.55" height="96" fill="#ffd2be" opacity="0.5"/><rect x="68.50" y="157" width="0.55" height="96" fill="#ffd2be" opacity="0.5"/><rect x="69.80" y="157" width="0.55" height="96" fill="#ffd2be" opacity="0.5"/><rect x="71.10" y="157" width="0.55" height="96" fill="#ffd2be" opacity="0.5"/><rect x="72.40" y="157" width="0.55" height="96" fill="#ffd2be" opacity="0.5"/><rect x="73.70" y="157" width="0.55" height="96" fill="#ffd2be" opacity="0.5"/><rect x="75.00" y="157" width="0.55" height="96" fill="#ffd2be" opacity="0.5"/><rect x="76.30" y="157" width="0.55" height="96" fill="#ffd2be" opacity="0.5"/><rect x="77.60" y="157" width="0.55" height="96" fill="#ffd2be" opacity="0.5"/><rect x="78.90" y="157" width="0.55" height="96" fill="#ffd2be" opacity="0.5"/><rect x="80.20" y="157" width="0.55" height="96" fill="#ffd2be" opacity="0.5"/><rect x="81.50" y="157" width="0.55" height="96" fill="#ffd2be" opacity="0.5"/><rect x="82.80" y="157" width="0.55" height="96" fill="#ffd2be" opacity="0.5"/><rect x="84.10" y="157" width="0.55" height="96" fill="#ffd2be" opacity="0.5"/><rect x="85.40" y="157" width="0.55" height="96" fill="#ffd2be" opacity="0.5"/><rect x="86.70" y="157" width="0.55" height="96" fill="#ffd2be" opacity="0.5"/><rect x="88.00" y="157" width="0.55" height="96" fill="#ffd2be" opacity="0.5"/><rect x="89.30" y="157" width="0.55" height="96" fill="#ffd2be" opacity="0.5"/><rect x="90.60" y="157" width="0.55" height="96" fill="#ffd2be" opacity="0.5"/><rect x="91.90" y="157" width="0.55" height="96" fill="#ffd2be" opacity="0.5"/><rect x="93.20" y="157" width="0.55" height="96" fill="#ffd2be" opacity="0.5"/><rect x="94.50" y="157" width="0.55" height="96" fill="#ffd2be" opacity="0.5"/><rect x="95.80" y="157" width="0.55" height="96" fill="#ffd2be" opacity="0.5"/><rect x="97.10" y="157" width="0.55" height="96" fill="#ffd2be" opacity="0.5"/><rect x="98.40" y="157" width="0.55" height="96" fill="#ffd2be" opacity="0.5"/><rect x="99.70" y="157" width="0.55" height="96" fill="#ffd2be" opacity="0.5"/><rect x="101.00" y="157" width="0.55" height="96" fill="#ffd2be" opacity="0.5"/><rect x="102.30" y="157" width="0.55" height="96" fill="#ffd2be" opacity="0.5"/><rect x="103.60" y="157" width="0.55" height="96" fill="#ffd2be" opacity="0.5"/><rect x="104.90" y="157" width="0.55" height="96" fill="#ffd2be" opacity="0.5"/><rect x="106.20" y="157" width="0.55" height="96" fill="#ffd2be" opacity="0.5"/><rect x="107.50" y="157" width="0.55" height="96" fill="#ffd2be" opacity="0.5"/><rect x="108.80" y="157" width="0.55" height="96" fill="#ffd2be" opacity="0.5"/><rect x="110.10" y="157" width="0.55" height="96" fill="#ffd2be" opacity="0.5"/><rect x="111.40" y="157" width="0.55" height="96" fill="#ffd2be" opacity="0.5"/><rect x="112.70" y="157" width="0.55" height="96" fill="#ffd2be" opacity="0.5"/><rect x="114.00" y="157" width="0.55" height="96" fill="#ffd2be" opacity="0.5"/><rect x="115.30" y="157" width="0.55" height="96" fill="#ffd2be" opacity="0.5"/><rect x="116.60" y="157" width="0.55" height="96" fill="#ffd2be" opacity="0.5"/><rect x="117.90" y="157" width="0.55" height="96" fill="#ffd2be" opacity="0.5"/><rect x="119.20" y="157" width="0.55" height="96" fill="#ffd2be" opacity="0.5"/><rect x="120.50" y="157" width="0.55" height="96" fill="#ffd2be" opacity="0.5"/><rect x="121.80" y="157" width="0.55" height="96" fill="#ffd2be" opacity="0.5"/><rect x="123.10" y="157" width="0.55" height="96" fill="#ffd2be" opacity="0.5"/><rect x="124.40" y="157" width="0.55" height="96" fill="#ffd2be" opacity="0.5"/><rect x="125.70" y="157" width="0.55" height="96" fill="#ffd2be" opacity="0.5"/><rect x="127.00" y="157" width="0.55" height="96" fill="#ffd2be" opacity="0.5"/><rect x="128.30" y="157" width="0.55" height="96" fill="#ffd2be" opacity="0.5"/><rect x="129.60" y="157" width="0.55" height="96" fill="#ffd2be" opacity="0.5"/><rect x="130.90" y="157" width="0.55" height="96" fill="#ffd2be" opacity="0.5"/><rect x="132.20" y="157" width="0.55" height="96" fill="#ffd2be" opacity="0.5"/><rect x="133.50" y="157" width="0.55" height="96" fill="#ffd2be" opacity="0.5"/><rect x="134.80" y="157" width="0.55" height="96" fill="#ffd2be" opacity="0.5"/><rect x="136.10" y="157" width="0.55" height="96" fill="#ffd2be" opacity="0.5"/><rect x="137.40" y="157" width="0.55" height="96" fill="#ffd2be" opacity="0.5"/><rect x="138.70" y="157" width="0.55" height="96" fill="#ffd2be" opacity="0.5"/><rect x="140.00" y="157" width="0.55" height="96" fill="#ffd2be" opacity="0.5"/><rect x="141.30" y="157" width="0.55" height="96" fill="#ffd2be" opacity="0.5"/><rect x="142.60" y="157" width="0.55" height="96" fill="#ffd2be" opacity="0.5"/><rect x="143.90" y="157" width="0.55" height="96" fill="#ffd2be" opacity="0.5"/><rect x="145.20" y="157" width="0.55" height="96" fill="#ffd2be" opacity="0.5"/><rect x="146.50" y="157" width="0.55" height="96" fill="#ffd2be" opacity="0.5"/><rect x="147.80" y="157" width="0.55" height="96" fill="#ffd2be" opacity="0.5"/><rect x="149.10" y="157" width="0.55" height="96" fill="#ffd2be" opacity="0.5"/><rect x="150.40" y="157" width="0.55" height="96" fill="#ffd2be" opacity="0.5"/><rect x="151.70" y="157" width="0.55" height="96" fill="#ffd2be" opacity="0.5"/><rect x="153.00" y="157" width="0.55" height="96" fill="#ffd2be" opacity="0.5"/><rect x="154.30" y="157" width="0.55" height="96" fill="#ffd2be" opacity="0.5"/><rect x="155.60" y="157" width="0.55" height="96" fill="#ffd2be" opacity="0.5"/><rect x="156.90" y="157" width="0.55" height="96" fill="#ffd2be" opacity="0.5"/><rect x="158.20" y="157" width="0.55" height="96" fill="#ffd2be" opacity="0.5"/></g>
<rect x="36.7" y="157.6" width="120.4" height="94.8" fill="none" stroke="#444" stroke-width="0.75"/>
<path d="M42.4 252.4v2.6M87.4 252.4v2.6M132.1 252.4v2.6M36.7 190.3h-2.6M36.7 230.8h-2.6" stroke="#222" stroke-width="0.8" fill="none"/>
<text x="42.4" y="262.6" font-size="6.86" text-anchor="middle">114.66</text>
<text x="87.4" y="262.6" font-size="6.86" text-anchor="middle">114.69</text>
<text x="132.1" y="262.6" font-size="6.86" text-anchor="middle">114.72</text>
<text x="32.2" y="193.2" font-size="6.840000000000001" text-anchor="end">30.66</text>
<text x="32.2" y="233.7" font-size="6.840000000000001" text-anchor="end">30.63</text>
<text x="96.9" y="153.9" font-size="8.2" text-anchor="middle">Zhangdu Lake</text>
<text x="96.9" y="272.0" font-size="6.94" text-anchor="middle">Longitude</text>
<text transform="translate(9.2 205.9) rotate(-90)" font-size="6.94" text-anchor="middle">Latitude</text>
<text x="145.5" y="169.2" font-size="8.3" text-anchor="middle">(d)</text>
</g>
<g id="panel-4">
<clipPath id="lk4"><path d="M210.7 169.6L211.9 167.9L214.2 167.3L216.5 167.5L218.8 167.9L219.7 166.2L219.3 164.4L220.5 163.9L221.6 165.6L222.2 167.9L223.9 169.0L226.2 169.6L228.5 170.5L230.5 169.0L231.1 166.2L230.8 163.3L231.9 161.8L233.4 162.7L233.7 165.6L235.0 167.3L235.7 169.0L235.0 171.3L234.2 173.0L236.5 173.3L239.4 173.3L242.3 174.0L245.1 174.4L246.5 175.3L246.0 177.0L244.6 177.8L245.7 179.3L245.1 181.1L243.4 181.6L244.6 183.1L246.9 183.9L249.7 184.5L252.0 185.6L253.7 187.0L253.2 188.8L254.3 190.5L256.6 190.2L259.5 190.0L261.2 191.1L261.4 193.1L260.6 194.8L258.9 195.7L261.2 197.1L263.5 198.2L266.3 199.2L266.3 205.3L258.0 205.3L256.6 204.0L253.2 203.4L248.6 203.4L244.0 203.7L240.5 203.4L239.1 202.3L240.5 201.1L242.8 200.3L245.1 199.4L247.4 198.2L248.0 196.5L246.3 195.4L242.8 195.0L239.4 194.8L236.5 194.2L235.4 192.5L235.0 189.6L234.2 187.4L232.5 185.6L231.1 183.9L230.5 181.1L228.5 179.3L226.2 178.8L224.3 179.9L222.8 181.1L222.0 178.8L221.1 175.9L218.8 174.2L215.9 173.0L213.0 172.5L211.3 171.3Z"/><path d="M265.7 178.2L267.7 175.3L268.5 172.5L269.7 171.7L270.8 173.0L271.5 175.9L272.3 178.2L274.0 180.5L276.3 182.8L278.0 184.5L280.3 185.1L283.2 184.7L284.9 185.6L286.4 187.4L286.9 189.6L288.9 191.1L291.2 192.5L294.1 193.1L296.0 192.3L297.2 192.7L296.7 194.2L294.7 195.0L291.8 194.8L288.9 193.9L287.2 193.7L285.5 195.4L283.8 197.1L283.0 199.4L283.2 202.3L283.8 205.3L270.6 205.3L271.2 202.3L272.3 199.4L273.8 196.5L272.9 194.8L273.5 192.5L274.6 190.8L274.0 188.5L272.3 186.2L270.6 183.9L268.3 181.6L265.7 179.9Z"/><path d="M265.7 199.2L266.9 200.0L267.1 202.8L267.1 205.3L265.7 205.3Z"/><path d="M256.0 204.7L257.2 208.4L258.0 211.9L258.7 215.3L258.9 218.7L258.0 221.0L255.5 220.5L253.7 218.7L252.6 217.0L252.0 217.8L252.6 220.5L252.9 223.3L250.9 225.0L248.6 225.6L247.7 226.5L249.7 227.3L250.9 229.1L252.6 230.0L254.3 228.5L256.0 227.9L257.2 229.6L257.7 232.5L258.3 235.0L260.0 237.1L262.3 238.2L264.6 237.8L266.3 237.1L266.3 204.7Z"/><path d="M265.7 204.7L267.1 204.7L266.9 207.9L267.4 210.7L268.9 211.9L270.6 210.2L271.2 207.3L270.8 204.7L285.7 204.7L285.7 207.3L284.9 209.6L286.5 212.2L287.9 214.1L287.0 217.3L285.6 220.0L283.8 222.8L282.4 225.4L282.2 227.9L284.3 229.6L286.6 229.6L288.9 227.9L291.2 226.2L292.6 223.9L294.1 222.2L296.0 221.0L297.0 218.2L298.1 216.5L299.8 216.5L300.4 218.7L301.5 219.3L304.4 219.7L305.2 221.0L303.8 222.2L301.5 222.2L301.0 223.9L302.7 225.6L304.4 226.8L303.8 228.5L302.1 229.1L300.4 230.8L299.3 233.1L297.5 234.2L297.0 235.9L298.7 238.2L300.4 239.9L303.8 239.4L305.6 237.6L309.6 237.1L310.9 235.0L311.3 233.1L309.6 232.5L307.5 231.1L307.3 229.1L309.0 227.9L310.9 228.5L312.1 230.2L313.6 229.6L315.1 230.8L315.5 233.1L314.2 233.6L312.8 233.6L313.0 235.9L314.7 237.6L315.9 239.1L317.0 241.1L319.3 241.9L320.1 243.4L319.3 245.1L316.5 246.0L311.9 246.5L306.1 246.2L300.4 245.8L294.7 245.3L288.9 245.1L284.3 244.5L279.8 243.4L275.2 241.4L270.6 238.8L265.7 236.8Z"/><path d="M284.7 209.5L288.4 210.5L292.9 209.5L295.2 208.2L295.6 206.8L296.5 204.5L297.9 201.8L298.8 199.8L300.2 200.0L301.5 201.4L301.1 203.6L299.7 205.0L298.5 207.3L299.3 209.1L302.0 209.5L306.5 209.5L308.4 208.2L309.3 205.5L310.2 203.6L311.5 203.6L312.0 205.9L311.5 209.1L310.2 211.4L307.9 212.3L304.7 211.8L302.0 212.3L299.3 211.4L296.5 211.4L293.8 212.3L290.2 212.7L287.9 213.2L286.5 212.3L282.9 212.3L282.9 209.5Z"/><path d="M289.5 210.2L289.7 206.4L290.6 204.1L291.5 204.5L291.6 206.8L291.8 210.0Z"/></clipPath><path d="M210.7 169.6L211.9 167.9L214.2 167.3L216.5 167.5L218.8 167.9L219.7 166.2L219.3 164.4L220.5 163.9L221.6 165.6L222.2 167.9L223.9 169.0L226.2 169.6L228.5 170.5L230.5 169.0L231.1 166.2L230.8 163.3L231.9 161.8L233.4 162.7L233.7 165.6L235.0 167.3L235.7 169.0L235.0 171.3L234.2 173.0L236.5 173.3L239.4 173.3L242.3 174.0L245.1 174.4L246.5 175.3L246.0 177.0L244.6 177.8L245.7 179.3L245.1 181.1L243.4 181.6L244.6 183.1L246.9 183.9L249.7 184.5L252.0 185.6L253.7 187.0L253.2 188.8L254.3 190.5L256.6 190.2L259.5 190.0L261.2 191.1L261.4 193.1L260.6 194.8L258.9 195.7L261.2 197.1L263.5 198.2L266.3 199.2L266.3 205.3L258.0 205.3L256.6 204.0L253.2 203.4L248.6 203.4L244.0 203.7L240.5 203.4L239.1 202.3L240.5 201.1L242.8 200.3L245.1 199.4L247.4 198.2L248.0 196.5L246.3 195.4L242.8 195.0L239.4 194.8L236.5 194.2L235.4 192.5L235.0 189.6L234.2 187.4L232.5 185.6L231.1 183.9L230.5 181.1L228.5 179.3L226.2 178.8L224.3 179.9L222.8 181.1L222.0 178.8L221.1 175.9L218.8 174.2L215.9 173.0L213.0 172.5L211.3 171.3Z" fill="#fdb197"/><path d="M265.7 178.2L267.7 175.3L268.5 172.5L269.7 171.7L270.8 173.0L271.5 175.9L272.3 178.2L274.0 180.5L276.3 182.8L278.0 184.5L280.3 185.1L283.2 184.7L284.9 185.6L286.4 187.4L286.9 189.6L288.9 191.1L291.2 192.5L294.1 193.1L296.0 192.3L297.2 192.7L296.7 194.2L294.7 195.0L291.8 194.8L288.9 193.9L287.2 193.7L285.5 195.4L283.8 197.1L283.0 199.4L283.2 202.3L283.8 205.3L270.6 205.3L271.2 202.3L272.3 199.4L273.8 196.5L272.9 194.8L273.5 192.5L274.6 190.8L274.0 188.5L272.3 186.2L270.6 183.9L268.3 181.6L265.7 179.9Z" fill="#fdb197"/><path d="M265.7 199.2L266.9 200.0L267.1 202.8L267.1 205.3L265.7 205.3Z" fill="#fdb197"/><path d="M256.0 204.7L257.2 208.4L258.0 211.9L258.7 215.3L258.9 218.7L258.0 221.0L255.5 220.5L253.7 218.7L252.6 217.0L252.0 217.8L252.6 220.5L252.9 223.3L250.9 225.0L248.6 225.6L247.7 226.5L249.7 227.3L250.9 229.1L252.6 230.0L254.3 228.5L256.0 227.9L257.2 229.6L257.7 232.5L258.3 235.0L260.0 237.1L262.3 238.2L264.6 237.8L266.3 237.1L266.3 204.7Z" fill="#fdb197"/><path d="M265.7 204.7L267.1 204.7L266.9 207.9L267.4 210.7L268.9 211.9L270.6 210.2L271.2 207.3L270.8 204.7L285.7 204.7L285.7 207.3L284.9 209.6L286.5 212.2L287.9 214.1L287.0 217.3L285.6 220.0L283.8 222.8L282.4 225.4L282.2 227.9L284.3 229.6L286.6 229.6L288.9 227.9L291.2 226.2L292.6 223.9L294.1 222.2L296.0 221.0L297.0 218.2L298.1 216.5L299.8 216.5L300.4 218.7L301.5 219.3L304.4 219.7L305.2 221.0L303.8 222.2L301.5 222.2L301.0 223.9L302.7 225.6L304.4 226.8L303.8 228.5L302.1 229.1L300.4 230.8L299.3 233.1L297.5 234.2L297.0 235.9L298.7 238.2L300.4 239.9L303.8 239.4L305.6 237.6L309.6 237.1L310.9 235.0L311.3 233.1L309.6 232.5L307.5 231.1L307.3 229.1L309.0 227.9L310.9 228.5L312.1 230.2L313.6 229.6L315.1 230.8L315.5 233.1L314.2 233.6L312.8 233.6L313.0 235.9L314.7 237.6L315.9 239.1L317.0 241.1L319.3 241.9L320.1 243.4L319.3 245.1L316.5 246.0L311.9 246.5L306.1 246.2L300.4 245.8L294.7 245.3L288.9 245.1L284.3 244.5L279.8 243.4L275.2 241.4L270.6 238.8L265.7 236.8Z" fill="#fdb197"/><path d="M284.7 209.5L288.4 210.5L292.9 209.5L295.2 208.2L295.6 206.8L296.5 204.5L297.9 201.8L298.8 199.8L300.2 200.0L301.5 201.4L301.1 203.6L299.7 205.0L298.5 207.3L299.3 209.1L302.0 209.5L306.5 209.5L308.4 208.2L309.3 205.5L310.2 203.6L311.5 203.6L312.0 205.9L311.5 209.1L310.2 211.4L307.9 212.3L304.7 211.8L302.0 212.3L299.3 211.4L296.5 211.4L293.8 212.3L290.2 212.7L287.9 213.2L286.5 212.3L282.9 212.3L282.9 209.5Z" fill="#fdb197"/><path d="M289.5 210.2L289.7 206.4L290.6 204.1L291.5 204.5L291.6 206.8L291.8 210.0Z" fill="#fdb197"/><g clip-path="url(#lk4)"><ellipse cx="279.8" cy="183.1" rx="12.5" ry="10.2" fill="#fcc3ae" opacity="0.6" filter="url(#b3)"/><ellipse cx="271.9" cy="226.2" rx="14.7" ry="14.1" fill="#e3d8d6" opacity="0.95" filter="url(#b2)"/><ellipse cx="256.0" cy="226.2" rx="6.3" ry="4.5" fill="#e8d6d0" opacity="0.9" filter="url(#b2)"/><ellipse cx="270.8" cy="238.6" rx="11.3" ry="3.2" fill="#e3d8d6" opacity="0.8" filter="url(#b2)"/><ellipse cx="271.9" cy="221.6" rx="7.3" ry="5.9" fill="#f6cfc2" opacity="0.75" filter="url(#b2)"/><ellipse cx="278.0" cy="202.3" rx="4.5" ry="8.2" fill="#e8d6d0" opacity="0.9" filter="url(#b2)"/><ellipse cx="278.0" cy="200.5" rx="2.7" ry="5.0" fill="#c4d3e8" opacity="0.9" filter="url(#b1)"/><ellipse cx="295.7" cy="226.2" rx="6.8" ry="6.3" fill="#fca489" opacity="0.95" filter="url(#b1)"/><ellipse cx="296.6" cy="217.8" rx="0.9" ry="1.4" fill="#8fb8f0" opacity="0.9" filter="url(#b0)"/><ellipse cx="292.3" cy="236.4" rx="9.1" ry="2.7" fill="#fdb39a" opacity="0.8" filter="url(#b2)"/><ellipse cx="307.0" cy="240.4" rx="10.2" ry="2.3" fill="#fccbb9" opacity="0.8" filter="url(#b2)"/><ellipse cx="298.0" cy="207.3" rx="11.3" ry="2.3" fill="#fcc3ae" opacity="0.6" filter="url(#b2)"/></g>
<rect x="205.4" y="157.6" width="120.3" height="94.8" fill="none" stroke="#444" stroke-width="0.75"/>
<path d="M232.3 252.4v2.6M297.7 252.4v2.6M205.4 191.8h-2.6M205.4 239.2h-2.6" stroke="#222" stroke-width="0.8" fill="none"/>
<text x="232.3" y="262.6" font-size="6.86" text-anchor="middle">114.55</text>
<text x="297.7" y="262.6" font-size="6.86" text-anchor="middle">114.60</text>
<text x="200.9" y="194.7" font-size="6.840000000000001" text-anchor="end">30.40</text>
<text x="200.9" y="242.0" font-size="6.840000000000001" text-anchor="end">30.35</text>
<text x="265.6" y="153.9" font-size="8.2" text-anchor="middle">Baoxie Lake</text>
<text x="265.6" y="272.0" font-size="6.94" text-anchor="middle">Longitude</text>
<text transform="translate(178.0 205.9) rotate(-90)" font-size="6.94" text-anchor="middle">Latitude</text>
<text transform="translate(313.6 168.0) scale(1.24 1)" font-size="8.2" font-weight="bold" font-family="'Liberation Serif', 'DejaVu Serif', serif" text-anchor="middle">(e)</text>
</g>
<g id="panel-5">
<clipPath id="lk5"><path d="M402.8 205.3L400.5 202.3L397.7 200.0L394.8 197.7L391.9 195.4L389.1 193.7L386.8 192.5L384.5 191.4L382.2 189.6L380.5 187.4L379.3 185.1L381.6 184.7L383.9 184.5L385.0 182.8L384.5 180.5L383.3 178.2L382.4 175.9L382.7 174.2L383.5 174.0L384.5 175.9L386.2 178.2L387.9 180.5L388.8 182.8L390.2 184.5L391.9 184.5L393.1 183.3L393.9 185.4L394.8 184.5L395.4 182.2L394.2 179.9L393.1 177.6L393.6 175.3L391.9 173.6L390.2 171.3L390.2 169.0L391.3 166.7L392.5 164.1L394.8 163.9L396.5 162.5L397.7 162.2L398.5 163.9L400.5 164.8L403.4 164.1L406.3 163.0L409.1 162.2L410.8 162.2L410.6 163.3L408.0 164.4L405.7 165.9L404.0 167.5L403.4 169.4L405.1 171.3L406.8 173.0L408.0 175.1L409.5 174.4L410.6 175.1L409.9 176.7L411.4 178.2L412.6 180.5L412.9 183.3L412.0 185.6L411.4 187.9L413.1 189.6L414.9 190.8L416.0 192.5L417.7 194.2L420.0 195.4L422.9 195.9L425.7 195.4L428.0 194.2L429.8 192.5L430.3 190.2L430.1 187.4L430.9 185.1L432.1 182.8L434.3 181.1L434.3 205.3Z"/><path d="M434.3 164.4L432.1 165.6L430.9 167.9L430.6 170.7L431.5 173.6L433.2 175.3L434.3 175.6Z"/><path d="M433.7 164.4L435.1 165.0L436.1 167.3L435.7 169.6L436.9 171.3L439.2 173.0L442.0 174.2L443.7 175.9L444.3 179.3L444.1 182.8L444.5 186.2L445.5 189.6L447.2 192.5L448.3 195.4L450.6 197.7L452.9 198.8L454.6 200.5L455.2 202.8L456.9 204.0L458.7 203.4L459.5 201.1L459.8 198.2L460.1 194.8L460.4 191.4L460.1 187.9L459.8 185.1L460.4 183.6L461.5 183.9L462.7 186.2L463.6 188.5L464.4 187.4L466.1 185.1L468.4 183.3L471.3 182.2L473.6 180.5L474.4 178.2L475.0 175.3L475.9 174.4L477.0 175.9L478.1 178.2L479.9 179.9L481.6 180.5L482.7 181.6L481.6 182.8L480.4 183.3L482.2 185.1L485.0 186.2L487.3 187.0L487.9 188.5L487.3 191.4L486.2 194.8L484.5 198.2L482.7 201.7L481.0 205.3L433.7 205.3Z"/><path d="M404.7 204.7L407.0 208.4L409.3 211.9L411.6 215.3L412.7 217.6L412.2 221.0L411.0 224.5L411.6 227.3L413.3 229.6L412.7 232.5L413.9 235.4L415.6 238.2L417.3 241.1L417.9 243.9L420.2 244.5L423.1 243.4L425.9 242.2L429.4 241.1L432.2 239.9L434.5 238.8L436.3 238.2L438.0 239.9L440.3 242.2L442.6 244.5L444.9 246.8L446.0 247.6L445.2 246.2L443.1 243.4L440.8 240.5L438.5 237.6L436.8 234.8L435.7 231.3L435.3 227.9L435.1 224.5L434.5 221.6L434.0 219.3L436.3 217.6L439.7 215.9L443.1 214.2L447.7 212.4L452.3 211.9L456.9 211.3L459.8 210.2L461.5 208.4L464.9 207.3L474.1 206.4L482.1 204.7Z"/></clipPath><path d="M402.8 205.3L400.5 202.3L397.7 200.0L394.8 197.7L391.9 195.4L389.1 193.7L386.8 192.5L384.5 191.4L382.2 189.6L380.5 187.4L379.3 185.1L381.6 184.7L383.9 184.5L385.0 182.8L384.5 180.5L383.3 178.2L382.4 175.9L382.7 174.2L383.5 174.0L384.5 175.9L386.2 178.2L387.9 180.5L388.8 182.8L390.2 184.5L391.9 184.5L393.1 183.3L393.9 185.4L394.8 184.5L395.4 182.2L394.2 179.9L393.1 177.6L393.6 175.3L391.9 173.6L390.2 171.3L390.2 169.0L391.3 166.7L392.5 164.1L394.8 163.9L396.5 162.5L397.7 162.2L398.5 163.9L400.5 164.8L403.4 164.1L406.3 163.0L409.1 162.2L410.8 162.2L410.6 163.3L408.0 164.4L405.7 165.9L404.0 167.5L403.4 169.4L405.1 171.3L406.8 173.0L408.0 175.1L409.5 174.4L410.6 175.1L409.9 176.7L411.4 178.2L412.6 180.5L412.9 183.3L412.0 185.6L411.4 187.9L413.1 189.6L414.9 190.8L416.0 192.5L417.7 194.2L420.0 195.4L422.9 195.9L425.7 195.4L428.0 194.2L429.8 192.5L430.3 190.2L430.1 187.4L430.9 185.1L432.1 182.8L434.3 181.1L434.3 205.3Z" fill="#fdb9a0"/><path d="M434.3 164.4L432.1 165.6L430.9 167.9L430.6 170.7L431.5 173.6L433.2 175.3L434.3 175.6Z" fill="#fdb9a0"/><path d="M433.7 164.4L435.1 165.0L436.1 167.3L435.7 169.6L436.9 171.3L439.2 173.0L442.0 174.2L443.7 175.9L444.3 179.3L444.1 182.8L444.5 186.2L445.5 189.6L447.2 192.5L448.3 195.4L450.6 197.7L452.9 198.8L454.6 200.5L455.2 202.8L456.9 204.0L458.7 203.4L459.5 201.1L459.8 198.2L460.1 194.8L460.4 191.4L460.1 187.9L459.8 185.1L460.4 183.6L461.5 183.9L462.7 186.2L463.6 188.5L464.4 187.4L466.1 185.1L468.4 183.3L471.3 182.2L473.6 180.5L474.4 178.2L475.0 175.3L475.9 174.4L477.0 175.9L478.1 178.2L479.9 179.9L481.6 180.5L482.7 181.6L481.6 182.8L480.4 183.3L482.2 185.1L485.0 186.2L487.3 187.0L487.9 188.5L487.3 191.4L486.2 194.8L484.5 198.2L482.7 201.7L481.0 205.3L433.7 205.3Z" fill="#fdb9a0"/><path d="M404.7 204.7L407.0 208.4L409.3 211.9L411.6 215.3L412.7 217.6L412.2 221.0L411.0 224.5L411.6 227.3L413.3 229.6L412.7 232.5L413.9 235.4L415.6 238.2L417.3 241.1L417.9 243.9L420.2 244.5L423.1 243.4L425.9 242.2L429.4 241.1L432.2 239.9L434.5 238.8L436.3 238.2L438.0 239.9L440.3 242.2L442.6 244.5L444.9 246.8L446.0 247.6L445.2 246.2L443.1 243.4L440.8 240.5L438.5 237.6L436.8 234.8L435.7 231.3L435.3 227.9L435.1 224.5L434.5 221.6L434.0 219.3L436.3 217.6L439.7 215.9L443.1 214.2L447.7 212.4L452.3 211.9L456.9 211.3L459.8 210.2L461.5 208.4L464.9 207.3L474.1 206.4L482.1 204.7Z" fill="#fdb9a0"/><g clip-path="url(#lk5)"><path d="M388.9 161.5L411.6 161.5L413.8 170.6L409.3 176.3L400.2 175.1L394.5 178.5L391.1 172.9Z" fill="#fa9176" opacity="0.95" filter="url(#b1)"/><path d="M377.5 172.9L386.6 174.0L395.7 181.9L394.5 191.0L386.6 191.0L377.5 186.5Z" fill="#fa957a" opacity="0.95" filter="url(#b1)"/><ellipse cx="434.7" cy="169.5" rx="4.1" ry="5.7" fill="#fba387" opacity="0.9" filter="url(#b1)"/><ellipse cx="422.9" cy="200.1" rx="11.3" ry="6.3" fill="#fecab6" opacity="0.7" filter="url(#b2)"/><ellipse cx="472.8" cy="191.0" rx="11.3" ry="9.1" fill="#fcaa8f" opacity="0.6" filter="url(#b3)"/><path d="M409.3 221.6L411.6 231.8L416.1 245.4L434.2 244.3L438.8 234.1L437.6 221.6Z" fill="#e4dbd8" opacity="0.95" filter="url(#b1)"/><path d="M412.2 215.0L416.5 225.7L421.5 231.8L425.8 234.5L429.5 230.9L432.0 225.7L434.7 215.0Z" fill="#fdbfa9" opacity="1" filter="url(#b1)"/><ellipse cx="415.4" cy="238.2" rx="0.7" ry="1.6" fill="#8fb8f0" opacity="0.9" filter="url(#b0)"/></g>
<rect x="373.5" y="157.6" width="120.3" height="94.8" fill="none" stroke="#444" stroke-width="0.75"/>
<path d="M408.3 252.4v2.6M450.0 252.4v2.6M491.4 252.4v2.6M373.5 192.4h-2.6M373.5 229.1h-2.6" stroke="#222" stroke-width="0.8" fill="none"/>
<text x="408.3" y="262.6" font-size="6.86" text-anchor="middle">114.48</text>
<text x="450.0" y="262.6" font-size="6.86" text-anchor="middle">114.51</text>
<text x="491.4" y="262.6" font-size="6.86" text-anchor="middle">114.54</text>
<text x="369.0" y="195.2" font-size="6.840000000000001" text-anchor="end">30.81</text>
<text x="369.0" y="231.9" font-size="6.840000000000001" text-anchor="end">30.78</text>
<text x="433.6" y="153.9" font-size="8.2" text-anchor="middle">Wu Lake</text>
<text x="433.6" y="272.0" font-size="6.94" text-anchor="middle">Longitude</text>
<text transform="translate(346.6 205.9) rotate(-90)" font-size="6.94" text-anchor="middle">Latitude</text>
<text x="482.2" y="169.2" font-size="8.3" text-anchor="middle">(f)</text>
</g>
<g id="panel-6">
<clipPath id="lk6"><path d="M55.5 304.3L56.9 304.5L57.8 306.4L57.6 308.7L58.9 311.0L60.7 313.0L62.1 315.0L64.1 316.8L66.4 317.9L69.3 318.2L70.6 317.3L72.5 316.2L74.8 315.7L76.8 314.8L79.1 313.2L81.4 312.3L84.2 311.6L87.6 311.1L91.0 311.1L94.5 311.6L97.3 311.9L97.3 315.0L93.9 314.8L90.5 314.5L87.6 314.5L84.7 315.0L81.9 316.2L79.6 317.6L77.3 318.7L75.0 319.8L72.9 320.8L75.6 321.3L79.0 322.5L81.9 323.6L84.7 325.1L87.6 326.5L89.9 327.6L92.2 326.5L94.5 325.1L97.3 324.2L97.3 347.3L89.9 347.3L89.3 344.8L87.6 343.1L84.7 341.8L81.9 340.7L79.6 340.0L77.0 339.7L77.3 338.9L80.1 338.9L83.0 339.3L86.5 340.0L88.2 338.5L87.6 336.2L84.7 335.7L81.3 335.9L77.3 335.4L73.8 334.3L71.0 333.1L70.4 332.2L73.8 332.2L77.3 332.6L80.7 332.0L84.2 331.3L86.2 330.2L86.5 328.6L84.7 327.4L81.9 326.5L79.6 326.0L77.3 325.1L74.4 324.2L71.5 323.6L69.8 324.9L68.7 323.3L66.4 322.5L64.1 322.6L63.5 324.2L62.6 322.5L61.8 320.8L60.3 319.2L58.7 320.1L58.1 319.0L58.9 317.3L58.4 315.0L56.6 312.7L54.9 310.5L54.1 308.2L54.3 305.3Z"/><path d="M48.4 312.3L51.5 312.4L54.9 312.5L54.9 313.2L51.5 313.2L48.4 313.0Z"/><path d="M96.7 312.2L99.3 311.8L102.2 310.9L104.8 309.5L107.1 307.9L108.5 305.9L109.6 304.0L110.8 304.3L109.8 306.6L108.2 309.1L105.6 311.1L102.5 312.7L99.5 313.7L96.7 314.8Z"/><path d="M96.7 324.4L99.1 325.1L100.7 327.1L100.2 329.7L99.1 331.6L98.7 333.1L101.6 333.7L105.0 333.1L107.9 332.0L110.8 330.8L114.2 329.5L116.5 328.0L118.8 326.5L120.5 325.7L122.1 326.6L121.8 328.6L120.0 330.2L117.8 331.6L115.5 333.1L113.2 334.3L110.9 335.4L108.6 336.2L106.9 337.4L108.0 339.1L109.7 340.5L108.6 341.6L106.3 341.2L104.0 342.0L102.3 343.1L104.0 344.3L107.4 344.6L110.9 344.8L113.7 344.6L114.3 345.7L112.0 346.7L108.6 347.3L96.7 347.3Z"/><path d="M76.7 346.7L77.9 350.4L76.1 353.3L73.6 354.8L75.6 356.2L77.5 357.9L76.4 359.8L77.5 361.7L79.3 363.0L78.4 363.7L76.7 363.0L75.0 364.2L72.7 365.3L70.4 364.8L67.5 363.6L65.2 361.9L64.1 360.5L62.4 361.3L60.1 362.5L57.2 361.7L56.4 359.8L54.9 357.3L54.3 354.4L56.1 353.3L57.6 351.6L57.3 348.7L56.1 346.7L53.2 346.7L53.0 349.3L53.2 351.8L49.8 351.6L46.5 351.1L46.1 351.8L49.5 352.5L52.7 353.3L53.2 356.2L54.3 359.0L55.3 361.0L53.2 360.7L49.8 359.9L46.3 359.1L42.9 358.7L43.1 359.6L46.9 360.7L50.3 361.7L53.8 362.8L57.2 364.0L60.7 364.4L62.9 365.9L64.7 367.6L66.4 368.5L68.1 367.4L70.4 366.7L72.7 367.6L73.8 369.3L73.3 371.1L75.0 372.8L77.3 374.5L80.7 375.1L84.2 375.6L87.6 377.0L90.5 378.5L93.3 380.2L95.6 381.4L97.3 381.9L96.8 377.9L95.4 374.5L95.9 371.1L94.2 368.2L91.0 365.9L89.9 363.0L91.0 361.7L97.3 361.3L97.3 346.7Z"/><path d="M96.7 346.7L111.9 346.7L110.8 348.7L108.5 349.5L107.9 352.2L110.8 353.3L114.2 353.9L117.6 354.8L119.9 353.3L122.8 351.6L125.7 349.9L128.0 348.1L129.7 346.7L134.8 346.7L136.0 347.9L132.8 349.9L130.9 352.2L128.6 353.9L126.4 355.6L124.6 357.3L123.1 358.7L126.8 360.5L130.3 362.2L133.7 361.7L136.6 360.5L138.9 359.6L141.5 359.1L144.0 358.9L145.4 360.5L144.2 361.9L141.7 361.7L139.2 361.7L137.1 362.6L135.1 364.2L133.5 365.1L136.0 365.6L139.4 366.7L142.9 367.8L147.5 369.0L151.6 369.6L151.6 370.4L147.5 369.9L142.9 369.0L138.3 368.0L134.8 367.7L131.4 367.5L129.1 366.0L126.2 364.3L123.4 363.2L121.7 364.2L119.9 365.9L120.6 367.7L118.8 367.0L116.5 365.3L114.2 364.2L111.4 364.2L110.3 366.5L109.7 369.5L108.5 368.8L107.9 365.9L106.7 363.6L103.9 362.5L100.4 361.9L96.7 361.4Z"/><path d="M96.7 374.3L98.4 376.2L101.4 377.7L105.0 378.0L108.5 377.5L111.9 376.6L114.5 375.8L115.9 374.5L117.4 374.5L118.3 376.2L121.7 377.0L122.8 377.7L121.5 378.2L118.2 377.5L115.3 377.0L112.5 377.9L109.4 378.8L107.3 379.6L109.6 381.4L111.9 383.4L114.2 385.4L115.9 386.5L117.4 385.9L118.3 386.5L116.7 387.8L115.9 389.2L114.8 388.5L113.1 386.9L110.8 385.0L108.5 383.2L106.2 381.6L103.9 380.5L101.6 379.5L98.7 378.6L97.6 381.4L98.4 384.8L98.8 386.6L97.7 386.9L96.7 384.8Z"/></clipPath><path d="M55.5 304.3L56.9 304.5L57.8 306.4L57.6 308.7L58.9 311.0L60.7 313.0L62.1 315.0L64.1 316.8L66.4 317.9L69.3 318.2L70.6 317.3L72.5 316.2L74.8 315.7L76.8 314.8L79.1 313.2L81.4 312.3L84.2 311.6L87.6 311.1L91.0 311.1L94.5 311.6L97.3 311.9L97.3 315.0L93.9 314.8L90.5 314.5L87.6 314.5L84.7 315.0L81.9 316.2L79.6 317.6L77.3 318.7L75.0 319.8L72.9 320.8L75.6 321.3L79.0 322.5L81.9 323.6L84.7 325.1L87.6 326.5L89.9 327.6L92.2 326.5L94.5 325.1L97.3 324.2L97.3 347.3L89.9 347.3L89.3 344.8L87.6 343.1L84.7 341.8L81.9 340.7L79.6 340.0L77.0 339.7L77.3 338.9L80.1 338.9L83.0 339.3L86.5 340.0L88.2 338.5L87.6 336.2L84.7 335.7L81.3 335.9L77.3 335.4L73.8 334.3L71.0 333.1L70.4 332.2L73.8 332.2L77.3 332.6L80.7 332.0L84.2 331.3L86.2 330.2L86.5 328.6L84.7 327.4L81.9 326.5L79.6 326.0L77.3 325.1L74.4 324.2L71.5 323.6L69.8 324.9L68.7 323.3L66.4 322.5L64.1 322.6L63.5 324.2L62.6 322.5L61.8 320.8L60.3 319.2L58.7 320.1L58.1 319.0L58.9 317.3L58.4 315.0L56.6 312.7L54.9 310.5L54.1 308.2L54.3 305.3Z" fill="#bed3f4"/><path d="M48.4 312.3L51.5 312.4L54.9 312.5L54.9 313.2L51.5 313.2L48.4 313.0Z" fill="#bed3f4"/><path d="M96.7 312.2L99.3 311.8L102.2 310.9L104.8 309.5L107.1 307.9L108.5 305.9L109.6 304.0L110.8 304.3L109.8 306.6L108.2 309.1L105.6 311.1L102.5 312.7L99.5 313.7L96.7 314.8Z" fill="#bed3f4"/><path d="M96.7 324.4L99.1 325.1L100.7 327.1L100.2 329.7L99.1 331.6L98.7 333.1L101.6 333.7L105.0 333.1L107.9 332.0L110.8 330.8L114.2 329.5L116.5 328.0L118.8 326.5L120.5 325.7L122.1 326.6L121.8 328.6L120.0 330.2L117.8 331.6L115.5 333.1L113.2 334.3L110.9 335.4L108.6 336.2L106.9 337.4L108.0 339.1L109.7 340.5L108.6 341.6L106.3 341.2L104.0 342.0L102.3 343.1L104.0 344.3L107.4 344.6L110.9 344.8L113.7 344.6L114.3 345.7L112.0 346.7L108.6 347.3L96.7 347.3Z" fill="#bed3f4"/><path d="M76.7 346.7L77.9 350.4L76.1 353.3L73.6 354.8L75.6 356.2L77.5 357.9L76.4 359.8L77.5 361.7L79.3 363.0L78.4 363.7L76.7 363.0L75.0 364.2L72.7 365.3L70.4 364.8L67.5 363.6L65.2 361.9L64.1 360.5L62.4 361.3L60.1 362.5L57.2 361.7L56.4 359.8L54.9 357.3L54.3 354.4L56.1 353.3L57.6 351.6L57.3 348.7L56.1 346.7L53.2 346.7L53.0 349.3L53.2 351.8L49.8 351.6L46.5 351.1L46.1 351.8L49.5 352.5L52.7 353.3L53.2 356.2L54.3 359.0L55.3 361.0L53.2 360.7L49.8 359.9L46.3 359.1L42.9 358.7L43.1 359.6L46.9 360.7L50.3 361.7L53.8 362.8L57.2 364.0L60.7 364.4L62.9 365.9L64.7 367.6L66.4 368.5L68.1 367.4L70.4 366.7L72.7 367.6L73.8 369.3L73.3 371.1L75.0 372.8L77.3 374.5L80.7 375.1L84.2 375.6L87.6 377.0L90.5 378.5L93.3 380.2L95.6 381.4L97.3 381.9L96.8 377.9L95.4 374.5L95.9 371.1L94.2 368.2L91.0 365.9L89.9 363.0L91.0 361.7L97.3 361.3L97.3 346.7Z" fill="#bed3f4"/><path d="M96.7 346.7L111.9 346.7L110.8 348.7L108.5 349.5L107.9 352.2L110.8 353.3L114.2 353.9L117.6 354.8L119.9 353.3L122.8 351.6L125.7 349.9L128.0 348.1L129.7 346.7L134.8 346.7L136.0 347.9L132.8 349.9L130.9 352.2L128.6 353.9L126.4 355.6L124.6 357.3L123.1 358.7L126.8 360.5L130.3 362.2L133.7 361.7L136.6 360.5L138.9 359.6L141.5 359.1L144.0 358.9L145.4 360.5L144.2 361.9L141.7 361.7L139.2 361.7L137.1 362.6L135.1 364.2L133.5 365.1L136.0 365.6L139.4 366.7L142.9 367.8L147.5 369.0L151.6 369.6L151.6 370.4L147.5 369.9L142.9 369.0L138.3 368.0L134.8 367.7L131.4 367.5L129.1 366.0L126.2 364.3L123.4 363.2L121.7 364.2L119.9 365.9L120.6 367.7L118.8 367.0L116.5 365.3L114.2 364.2L111.4 364.2L110.3 366.5L109.7 369.5L108.5 368.8L107.9 365.9L106.7 363.6L103.9 362.5L100.4 361.9L96.7 361.4Z" fill="#bed3f4"/><path d="M96.7 374.3L98.4 376.2L101.4 377.7L105.0 378.0L108.5 377.5L111.9 376.6L114.5 375.8L115.9 374.5L117.4 374.5L118.3 376.2L121.7 377.0L122.8 377.7L121.5 378.2L118.2 377.5L115.3 377.0L112.5 377.9L109.4 378.8L107.3 379.6L109.6 381.4L111.9 383.4L114.2 385.4L115.9 386.5L117.4 385.9L118.3 386.5L116.7 387.8L115.9 389.2L114.8 388.5L113.1 386.9L110.8 385.0L108.5 383.2L106.2 381.6L103.9 380.5L101.6 379.5L98.7 378.6L97.6 381.4L98.4 384.8L98.8 386.6L97.7 386.9L96.7 384.8Z" fill="#bed3f4"/><g clip-path="url(#lk6)"></g><path d="M56.0 303.0L117.0 303.0L117.0 323.0L56.0 323.0Z" fill="#fff"/><path d="M55.7 306.4L59.4 311.6L62.9 315.0L67.5 317.3L70.9 316.2L74.3 314.5L78.9 312.7L83.5 311.6L88.1 311.2L92.7 311.6L97.3 312.7L101.9 311.9L105.3 310.1L108.2 307.6L109.3 304.7L110.8 304.1L111.3 305.9L109.9 308.7L107.6 311.6L104.2 313.5L100.1 314.5L96.1 314.5L91.5 313.9L87.0 313.9L82.9 314.5L79.5 315.6L76.6 317.3L74.3 319.0L76.6 320.2L80.1 321.3L83.5 323.0L86.0 324.3L76.1 324.3L73.2 323.0L70.3 324.8L69.2 322.5L66.3 321.3L64.3 324.3L63.6 322.5L62.9 320.2L60.0 318.5L57.7 315.6L55.7 311.6Z" fill="#bed3f4"/><path d="M66.0 323.0L127.0 323.0L127.0 371.0L66.0 371.0Z" fill="#fff"/><path d="M83.5 322.7L87.0 324.8L89.3 326.6L91.6 326.0L93.5 323.9L94.7 324.7L94.9 327.6L96.0 329.9L96.7 333.3L96.5 336.5L100.4 335.0L105.0 333.9L109.6 332.2L114.2 330.4L117.6 328.2L120.5 326.2L122.4 327.0L122.2 328.7L119.9 330.4L117.0 332.2L114.2 333.9L110.7 335.0L107.3 336.2L106.7 338.5L106.1 341.3L103.8 341.9L101.5 342.5L102.7 342.7L107.3 343.8L111.9 344.8L114.2 344.8L113.7 345.9L109.6 346.5L105.0 345.9L100.4 345.9L97.0 346.5L96.7 350.5L96.5 353.9L96.4 357.1L98.7 355.6L101.5 356.2L103.8 355.1L106.1 355.6L109.0 353.9L110.1 352.8L111.3 355.1L114.2 356.2L117.0 354.5L119.9 353.4L123.3 351.6L127.3 349.9L127.3 360.8L123.3 362.5L119.9 361.4L116.5 361.9L113.0 361.4L110.1 362.5L109.6 366.5L109.0 367.7L107.9 365.4L106.7 362.5L103.8 361.4L100.4 360.8L97.0 361.4L96.0 363.1L95.8 366.5L95.6 371.3L80.9 371.3L82.6 368.8L83.2 366.0L82.1 363.1L80.3 360.8L78.6 357.9L76.3 357.4L74.0 355.6L75.7 354.5L77.5 352.2L76.3 349.6L76.9 348.0L79.2 349.9L82.1 352.2L84.9 353.9L87.2 352.8L88.4 350.5L88.4 344.8L84.9 344.2L81.5 342.5L77.5 341.1L76.9 339.6L80.9 340.2L84.3 341.3L87.8 341.3L87.8 337.3L86.1 336.7L82.1 335.6L76.3 334.5L71.2 333.3L70.6 332.2L77.5 332.7L84.3 332.2L87.8 331.0L84.3 330.1L80.7 327.7L79.5 326.0L76.7 324.3L73.2 322.7Z" fill="#bed3f4"/><path d="M65.7 361.9L67.5 363.6L70.4 364.7L72.7 365.3L74.9 364.1L76.7 363.0L78.4 363.7L80.9 364.8L83.2 366.5L83.2 371.3L73.2 371.3L73.8 369.3L72.7 367.6L70.4 366.6L68.1 367.3L65.7 368.5Z" fill="#bed3f4"/><path d="M89.5 361.7L93.5 361.4L94.2 363.1L92.9 364.5L89.5 364.2Z" fill="#fff"/><ellipse cx="49.8" cy="312.8" rx="1.6" ry="0.5" fill="#f7b7a0"/><ellipse cx="56.0" cy="304.7" rx="0.9" ry="0.7" fill="#f7b7a0"/><ellipse cx="110.2" cy="304.4" rx="0.8" ry="0.8" fill="#f7b7a0"/><ellipse cx="143.3" cy="360.4" rx="1.8" ry="1.4" fill="#f7b7a0"/><ellipse cx="151.1" cy="369.9" rx="1.1" ry="0.5" fill="#f7b7a0"/><ellipse cx="121.5" cy="377.5" rx="1.4" ry="0.6" fill="#f7b7a0"/><ellipse cx="116.7" cy="375.3" rx="0.9" ry="0.9" fill="#f7b7a0"/><ellipse cx="114.2" cy="386.0" rx="0.9" ry="0.7" fill="#f7b7a0"/><ellipse cx="132.0" cy="367.4" rx="1.1" ry="0.6" fill="#f7b7a0"/><ellipse cx="57.1" cy="348.7" rx="0.7" ry="1.1" fill="#f7b7a0"/><ellipse cx="77.5" cy="359.8" rx="1.0" ry="1.0" fill="#f7b7a0"/><ellipse cx="81.4" cy="312.8" rx="0.9" ry="0.6" fill="#f7b7a0"/><ellipse cx="56.1" cy="361.9" rx="1.1" ry="0.6" fill="#f7b7a0"/><ellipse cx="111.9" cy="361.3" rx="0.9" ry="0.7" fill="#f7b7a0"/>
<rect x="36.7" y="299.3" width="120.4" height="94.4" fill="none" stroke="#444" stroke-width="0.75"/>
<path d="M54.1 393.7v2.6M99.1 393.7v2.6M144.4 393.7v2.6M36.7 301.9h-2.6M36.7 341.6h-2.6M36.7 381.6h-2.6" stroke="#222" stroke-width="0.8" fill="none"/>
<text x="54.1" y="403.9" font-size="6.86" text-anchor="middle">114.45</text>
<text x="99.1" y="403.9" font-size="6.86" text-anchor="middle">114.48</text>
<text x="144.4" y="403.9" font-size="6.86" text-anchor="middle">114.51</text>
<text x="32.2" y="304.8" font-size="6.840000000000001" text-anchor="end">31.15</text>
<text x="32.2" y="344.5" font-size="6.840000000000001" text-anchor="end">31.10</text>
<text x="32.2" y="384.5" font-size="6.840000000000001" text-anchor="end">31.05</text>
<text x="96.9" y="295.6" font-size="8.2" text-anchor="middle">Xiajiasi Lake</text>
<text x="96.9" y="413.0" font-size="6.94" text-anchor="middle">Longitude</text>
<text transform="translate(9.2 347.4) rotate(-90)" font-size="6.94" text-anchor="middle">Latitude</text>
<text x="145.5" y="310.9" font-size="8.3" text-anchor="middle">(g)</text>
</g>
<g id="panel-7">
<clipPath id="lk7"><path d="M233.7 347.3L233.1 344.3L233.4 341.4L235.0 338.5L236.5 335.7L236.0 332.8L235.7 331.1L237.7 329.7L240.5 328.6L244.0 327.6L246.9 327.4L249.1 328.2L250.2 329.7L250.9 328.6L251.4 325.9L252.6 323.6L254.3 321.3L256.6 319.6L259.5 318.7L262.3 317.9L264.1 316.2L263.5 313.3L261.8 311.6L260.6 309.9L261.8 308.7L263.5 307.2L262.9 305.3L263.7 303.8L266.3 303.4L266.3 347.3Z"/><path d="M226.2 347.3L226.6 345.7L227.9 345.3L229.3 346.0L229.3 347.3Z"/><path d="M265.7 303.4L267.1 304.2L267.7 306.4L267.1 308.7L268.3 310.5L269.4 312.2L270.6 314.5L271.7 316.2L274.0 315.0L276.9 313.3L279.8 312.5L282.6 311.8L283.8 312.5L284.3 314.5L283.2 315.6L281.5 315.0L279.8 316.2L277.5 317.3L275.2 318.5L272.9 319.6L271.7 321.3L272.3 323.6L273.5 325.9L274.6 327.6L274.0 329.4L271.7 329.7L269.4 328.8L268.3 330.5L267.7 333.4L267.1 335.7L266.6 338.5L265.7 340.2Z"/><path d="M265.7 343.4L270.6 343.0L275.2 343.2L276.5 341.4L277.2 337.9L277.9 334.5L278.8 331.1L280.0 329.0L280.9 330.8L280.7 334.5L280.9 337.9L282.1 340.8L283.2 342.5L284.3 340.2L284.6 336.8L284.9 333.9L286.4 331.6L287.8 332.0L287.3 334.5L286.9 337.9L287.2 340.8L288.4 344.3L288.9 347.3L265.7 347.3Z"/><path d="M227.4 346.7L227.9 348.1L228.5 350.4L227.4 352.3L224.5 353.1L221.1 353.3L217.6 352.7L214.2 352.2L210.7 351.6L211.0 353.6L214.7 355.7L216.5 357.5L219.9 358.0L223.3 358.5L226.8 358.7L229.7 359.8L231.9 361.4L233.7 363.5L235.4 365.6L236.9 367.4L235.7 370.5L233.9 373.6L232.3 376.6L231.1 378.6L232.3 380.2L233.9 379.3L235.5 376.6L237.3 373.6L238.9 371.3L240.1 373.9L241.7 377.0L243.8 380.2L245.4 382.7L246.7 384.3L248.3 383.7L247.9 381.4L246.5 378.5L245.1 375.6L243.8 372.8L242.6 370.5L244.6 370.8L247.2 370.6L247.2 369.9L244.6 369.7L243.4 367.6L241.5 367.2L242.8 365.9L246.3 365.3L249.7 364.2L253.2 363.0L256.0 362.5L258.7 362.1L260.0 364.8L259.5 367.0L258.3 369.3L258.0 370.8L259.5 370.5L261.0 368.8L262.3 369.9L263.2 371.6L263.8 369.9L263.0 367.6L262.2 365.3L263.0 363.0L262.3 360.5L261.4 357.9L262.9 355.6L264.6 353.9L266.3 352.5L266.3 346.7Z"/><path d="M265.7 346.7L290.7 346.7L292.9 348.7L294.1 351.0L296.0 351.8L298.7 353.3L301.5 354.8L300.4 355.6L297.5 355.0L295.2 354.8L294.7 357.3L296.0 359.6L298.7 361.3L299.8 360.5L300.4 361.9L302.5 363.0L303.3 362.5L303.8 364.8L306.1 366.5L309.0 368.8L311.9 371.1L314.7 372.8L317.6 373.9L319.3 375.6L319.3 377.4L317.6 376.6L315.3 375.4L312.4 374.5L309.6 373.6L306.7 373.1L304.4 372.8L301.5 371.6L299.3 371.1L297.0 371.6L295.2 369.9L293.5 368.2L291.2 367.6L288.9 368.2L287.2 369.3L286.6 371.6L287.2 374.5L287.6 377.4L287.2 380.2L286.4 383.1L285.3 385.4L284.3 387.1L284.9 388.8L283.8 389.2L283.0 388.0L281.5 388.8L280.7 387.7L282.1 385.9L283.2 383.7L284.1 380.8L284.3 377.9L283.2 376.8L280.3 376.6L280.3 375.6L283.2 375.4L284.3 373.9L284.6 371.6L284.3 369.3L282.6 367.6L280.9 365.9L279.2 365.3L277.5 365.9L276.3 365.3L275.7 364.2L277.5 364.2L279.8 364.0L281.5 362.5L282.1 359.6L282.6 357.3L282.1 356.2L279.8 355.0L275.2 354.4L270.6 353.3L265.7 352.2Z"/></clipPath><path d="M233.7 347.3L233.1 344.3L233.4 341.4L235.0 338.5L236.5 335.7L236.0 332.8L235.7 331.1L237.7 329.7L240.5 328.6L244.0 327.6L246.9 327.4L249.1 328.2L250.2 329.7L250.9 328.6L251.4 325.9L252.6 323.6L254.3 321.3L256.6 319.6L259.5 318.7L262.3 317.9L264.1 316.2L263.5 313.3L261.8 311.6L260.6 309.9L261.8 308.7L263.5 307.2L262.9 305.3L263.7 303.8L266.3 303.4L266.3 347.3Z" fill="#f5c9b8"/><path d="M226.2 347.3L226.6 345.7L227.9 345.3L229.3 346.0L229.3 347.3Z" fill="#f5c9b8"/><path d="M265.7 303.4L267.1 304.2L267.7 306.4L267.1 308.7L268.3 310.5L269.4 312.2L270.6 314.5L271.7 316.2L274.0 315.0L276.9 313.3L279.8 312.5L282.6 311.8L283.8 312.5L284.3 314.5L283.2 315.6L281.5 315.0L279.8 316.2L277.5 317.3L275.2 318.5L272.9 319.6L271.7 321.3L272.3 323.6L273.5 325.9L274.6 327.6L274.0 329.4L271.7 329.7L269.4 328.8L268.3 330.5L267.7 333.4L267.1 335.7L266.6 338.5L265.7 340.2Z" fill="#f5c9b8"/><path d="M265.7 343.4L270.6 343.0L275.2 343.2L276.5 341.4L277.2 337.9L277.9 334.5L278.8 331.1L280.0 329.0L280.9 330.8L280.7 334.5L280.9 337.9L282.1 340.8L283.2 342.5L284.3 340.2L284.6 336.8L284.9 333.9L286.4 331.6L287.8 332.0L287.3 334.5L286.9 337.9L287.2 340.8L288.4 344.3L288.9 347.3L265.7 347.3Z" fill="#f5c9b8"/><path d="M227.4 346.7L227.9 348.1L228.5 350.4L227.4 352.3L224.5 353.1L221.1 353.3L217.6 352.7L214.2 352.2L210.7 351.6L211.0 353.6L214.7 355.7L216.5 357.5L219.9 358.0L223.3 358.5L226.8 358.7L229.7 359.8L231.9 361.4L233.7 363.5L235.4 365.6L236.9 367.4L235.7 370.5L233.9 373.6L232.3 376.6L231.1 378.6L232.3 380.2L233.9 379.3L235.5 376.6L237.3 373.6L238.9 371.3L240.1 373.9L241.7 377.0L243.8 380.2L245.4 382.7L246.7 384.3L248.3 383.7L247.9 381.4L246.5 378.5L245.1 375.6L243.8 372.8L242.6 370.5L244.6 370.8L247.2 370.6L247.2 369.9L244.6 369.7L243.4 367.6L241.5 367.2L242.8 365.9L246.3 365.3L249.7 364.2L253.2 363.0L256.0 362.5L258.7 362.1L260.0 364.8L259.5 367.0L258.3 369.3L258.0 370.8L259.5 370.5L261.0 368.8L262.3 369.9L263.2 371.6L263.8 369.9L263.0 367.6L262.2 365.3L263.0 363.0L262.3 360.5L261.4 357.9L262.9 355.6L264.6 353.9L266.3 352.5L266.3 346.7Z" fill="#f5c9b8"/><path d="M265.7 346.7L290.7 346.7L292.9 348.7L294.1 351.0L296.0 351.8L298.7 353.3L301.5 354.8L300.4 355.6L297.5 355.0L295.2 354.8L294.7 357.3L296.0 359.6L298.7 361.3L299.8 360.5L300.4 361.9L302.5 363.0L303.3 362.5L303.8 364.8L306.1 366.5L309.0 368.8L311.9 371.1L314.7 372.8L317.6 373.9L319.3 375.6L319.3 377.4L317.6 376.6L315.3 375.4L312.4 374.5L309.6 373.6L306.7 373.1L304.4 372.8L301.5 371.6L299.3 371.1L297.0 371.6L295.2 369.9L293.5 368.2L291.2 367.6L288.9 368.2L287.2 369.3L286.6 371.6L287.2 374.5L287.6 377.4L287.2 380.2L286.4 383.1L285.3 385.4L284.3 387.1L284.9 388.8L283.8 389.2L283.0 388.0L281.5 388.8L280.7 387.7L282.1 385.9L283.2 383.7L284.1 380.8L284.3 377.9L283.2 376.8L280.3 376.6L280.3 375.6L283.2 375.4L284.3 373.9L284.6 371.6L284.3 369.3L282.6 367.6L280.9 365.9L279.2 365.3L277.5 365.9L276.3 365.3L275.7 364.2L277.5 364.2L279.8 364.0L281.5 362.5L282.1 359.6L282.6 357.3L282.1 356.2L279.8 355.0L275.2 354.4L270.6 353.3L265.7 352.2Z" fill="#f5c9b8"/><g clip-path="url(#lk7)"><ellipse cx="249.2" cy="350.0" rx="12.5" ry="13.6" fill="#fcb49b" opacity="0.9" filter="url(#b2)"/><ellipse cx="262.8" cy="323.9" rx="7.9" ry="12.5" fill="#fcb49b" opacity="0.85" filter="url(#b2)"/><ellipse cx="265.1" cy="309.2" rx="3.4" ry="6.8" fill="#fcae94" opacity="0.9" filter="url(#b1)"/><ellipse cx="244.7" cy="333.0" rx="6.8" ry="4.5" fill="#fabca7" opacity="0.8" filter="url(#b2)"/><ellipse cx="286.6" cy="355.7" rx="17.0" ry="12.5" fill="#e5d4cf" opacity="0.9" filter="url(#b2)"/><ellipse cx="283.2" cy="378.4" rx="2.7" ry="9.1" fill="#f6b29d" opacity="0.9" filter="url(#b1)"/><ellipse cx="311.6" cy="372.7" rx="6.8" ry="2.7" fill="#f7b09a" opacity="0.9" filter="url(#b1)"/><ellipse cx="236.7" cy="377.2" rx="5.7" ry="7.9" fill="#f5b4a0" opacity="0.8" filter="url(#b1)"/><ellipse cx="283.0" cy="362.5" rx="0.7" ry="3.6" fill="#a9c4ee" opacity="0.8" filter="url(#b0)"/><ellipse cx="292.3" cy="369.7" rx="5.4" ry="0.9" fill="#a9c4ee" opacity="0.8" filter="url(#b0)"/><ellipse cx="280.3" cy="359.1" rx="0.7" ry="2.7" fill="#b4cbee" opacity="0.7" filter="url(#b0)"/><ellipse cx="243.6" cy="368.2" rx="1.6" ry="1.6" fill="#8fb8f0" opacity="0.9" filter="url(#b0)"/><ellipse cx="234.0" cy="341.6" rx="0.9" ry="1.8" fill="#a9c4ee" opacity="0.9" filter="url(#b0)"/><ellipse cx="275.3" cy="318.3" rx="2.7" ry="1.1" fill="#a9c4ee" opacity="0.8" filter="url(#b0)"/><ellipse cx="249.2" cy="336.4" rx="0.7" ry="3.2" fill="#c4d3ec" opacity="0.7" filter="url(#b0)"/></g>
<rect x="205.4" y="299.3" width="120.3" height="94.4" fill="none" stroke="#444" stroke-width="0.75"/>
<path d="M216.5 393.7v2.6M262.0 393.7v2.6M307.3 393.7v2.6M205.4 312.4h-2.6M205.4 355.6h-2.6" stroke="#222" stroke-width="0.8" fill="none"/>
<text x="216.5" y="403.9" font-size="6.86" text-anchor="middle">114.35</text>
<text x="262.0" y="403.9" font-size="6.86" text-anchor="middle">114.40</text>
<text x="307.3" y="403.9" font-size="6.86" text-anchor="middle">114.45</text>
<text x="200.9" y="315.2" font-size="6.840000000000001" text-anchor="end">30.60</text>
<text x="200.9" y="358.5" font-size="6.840000000000001" text-anchor="end">30.55</text>
<text x="265.6" y="295.6" font-size="8.2" text-anchor="middle">Dong Lake</text>
<text x="265.6" y="413.0" font-size="6.94" text-anchor="middle">Longitude</text>
<text transform="translate(178.0 347.4) rotate(-90)" font-size="6.94" text-anchor="middle">Latitude</text>
<text x="314.1" y="310.9" font-size="8.3" text-anchor="middle">(h)</text>
</g>
<g id="panel-8">
<clipPath id="lk8"><path d="M384.5 347.3L385.6 345.6L383.9 344.5L383.3 342.8L385.6 342.2L388.5 341.0L390.2 338.8L390.0 336.8L390.2 333.4L391.3 329.9L392.3 326.5L393.1 323.1L393.6 319.6L393.4 316.2L392.7 312.7L393.1 309.5L394.6 309.3L395.0 311.6L395.7 314.5L396.5 315.6L398.0 313.9L399.4 311.8L400.5 312.5L399.6 314.5L398.2 316.4L397.3 318.5L397.1 321.9L396.5 325.3L395.9 328.8L395.4 332.2L394.8 335.7L394.6 338.5L395.4 340.2L397.7 339.7L399.9 339.1L402.2 340.0L403.4 341.2L405.1 339.7L406.3 337.7L407.4 335.7L408.0 333.4L407.4 331.1L405.7 330.5L403.4 329.7L404.9 327.6L405.7 325.6L406.5 327.4L407.4 327.6L408.0 325.3L409.5 323.6L410.8 321.9L411.4 319.6L412.6 320.2L412.6 322.5L413.7 323.6L414.5 321.9L414.9 319.4L416.3 318.5L418.3 318.7L419.4 320.2L420.2 321.7L421.2 319.6L420.9 317.3L420.0 315.0L418.9 312.7L417.1 311.0L414.9 310.5L412.6 311.0L411.4 310.2L413.1 309.3L415.4 308.7L417.7 308.2L418.9 307.0L417.9 305.3L418.6 305.0L420.0 307.6L421.7 309.3L423.5 311.0L425.2 312.2L426.9 311.6L428.0 309.9L428.6 307.6L427.8 305.3L429.2 304.2L430.9 304.7L432.1 306.4L434.3 305.9L434.3 326.5L431.5 327.1L429.2 326.5L427.5 327.6L428.0 330.5L429.8 333.4L431.7 335.9L434.3 337.4L434.3 339.1L431.5 337.9L429.2 335.4L427.1 332.5L426.7 335.1L426.0 337.9L425.2 339.8L424.0 339.3L423.2 336.8L422.9 333.6L423.7 330.5L423.5 328.6L424.6 327.1L425.2 324.8L424.0 322.5L422.3 323.6L420.9 324.4L418.9 326.5L417.1 328.8L416.6 332.2L416.0 334.5L414.9 336.8L412.0 337.4L410.3 338.8L411.4 340.5L413.1 342.2L413.7 343.9L412.6 344.3L410.8 343.3L409.1 344.5L407.4 346.2L405.7 347.3L404.0 346.8L403.0 344.5L401.7 342.2L399.4 341.0L397.1 342.2L395.4 344.5L394.2 346.8L394.0 347.3Z"/><path d="M433.7 321.0L436.3 322.8L438.0 321.3L438.8 321.7L439.7 324.8L441.8 325.9L442.7 324.7L443.7 327.6L445.5 330.5L447.2 333.1L448.7 331.1L449.4 331.5L450.1 334.3L452.3 334.7L454.1 333.4L455.8 331.1L456.9 327.1L457.6 327.4L458.3 329.9L459.5 326.5L460.1 327.0L460.9 329.9L462.2 326.5L462.9 326.7L463.6 329.4L465.5 327.6L467.3 325.9L468.4 323.1L469.0 319.6L468.4 316.2L467.8 313.9L469.0 313.3L470.1 315.6L471.3 317.9L472.4 316.2L473.2 317.3L472.8 320.2L472.4 323.1L473.0 325.9L474.1 328.2L474.7 325.3L475.9 324.2L477.0 325.9L478.1 323.1L479.3 320.8L480.4 318.5L481.6 316.8L482.7 316.2L483.1 317.3L482.2 319.6L481.0 321.9L479.9 324.2L478.9 327.1L478.1 329.9L478.7 332.2L478.1 335.1L476.4 337.4L474.1 338.2L471.8 337.4L469.5 336.8L467.3 336.2L465.5 335.1L464.4 336.8L463.2 339.7L462.1 340.8L460.9 339.1L459.8 340.8L458.3 341.4L456.9 340.2L455.8 342.0L454.1 343.1L452.3 342.5L451.2 340.8L449.5 338.5L447.8 336.8L445.5 335.1L443.7 332.8L442.0 330.5L440.3 328.8L438.8 329.7L438.6 328.2L436.9 326.5L435.1 325.9L433.7 326.5Z"/><path d="M470.1 347.3L470.7 342.5L473.0 341.6L477.6 342.0L482.2 341.4L483.5 342.5L484.5 347.3Z"/><path d="M433.7 304.2L435.4 304.5L436.3 305.9L435.7 307.6L434.9 310.5L435.1 313.9L434.6 317.3L435.1 320.8L433.7 321.3Z"/><path d="M384.5 346.7L381.6 347.9L379.3 348.5L380.5 350.2L381.3 352.5L382.7 353.6L385.0 353.1L386.8 351.4L388.1 349.9L388.8 352.5L388.5 355.9L388.1 358.8L389.3 359.1L390.4 357.7L391.3 355.9L392.7 355.4L393.4 352.5L393.6 349.6L394.2 346.7Z"/><path d="M403.7 346.7L404.2 347.7L406.3 347.9L407.4 346.7Z"/><path d="M441.5 361.3L443.2 359.0L444.9 360.2L446.0 357.3L447.2 359.0L448.3 356.7L449.5 358.5L451.8 355.0L452.9 357.3L455.2 353.9L456.4 356.7L458.7 354.4L459.8 356.2L461.5 353.3L462.7 355.6L464.4 352.2L465.5 354.4L467.3 350.4L468.4 348.7L470.7 346.7L484.5 346.7L486.2 349.9L487.3 353.3L487.7 356.7L486.5 355.6L485.0 352.7L483.3 351.0L481.0 350.4L478.7 351.6L477.8 353.9L478.1 356.7L479.9 359.6L481.0 361.3L479.3 363.6L478.1 365.9L479.3 368.2L481.6 369.9L483.3 371.1L482.2 372.8L479.9 373.3L478.1 374.5L475.9 374.5L473.6 375.6L471.3 377.4L469.5 379.6L468.4 381.9L468.6 384.8L468.2 386.5L467.5 385.4L466.1 383.1L463.8 381.9L461.5 381.4L459.2 381.9L457.5 383.7L456.4 385.9L455.2 386.5L454.1 383.7L452.9 381.4L451.2 382.5L448.9 383.7L446.6 385.4L444.3 387.1L442.0 389.4L440.3 388.8L439.5 386.5L440.3 384.2L442.0 382.5L443.7 380.8L445.5 378.5L447.8 376.8L448.9 375.1L451.2 375.6L452.9 374.5L455.2 375.1L456.9 373.9L458.7 374.5L460.4 372.8L461.5 370.5L462.7 369.3L464.4 369.9L466.7 369.3L468.4 367.0L469.0 364.8L467.8 363.6L466.1 364.2L463.8 365.3L461.5 367.0L462.1 365.3L460.9 362.5L459.2 361.3L456.9 361.9L454.6 362.5L452.3 363.0L450.1 364.2L447.8 364.8L445.5 364.2L443.2 364.8L441.5 363.0Z"/></clipPath><path d="M384.5 347.3L385.6 345.6L383.9 344.5L383.3 342.8L385.6 342.2L388.5 341.0L390.2 338.8L390.0 336.8L390.2 333.4L391.3 329.9L392.3 326.5L393.1 323.1L393.6 319.6L393.4 316.2L392.7 312.7L393.1 309.5L394.6 309.3L395.0 311.6L395.7 314.5L396.5 315.6L398.0 313.9L399.4 311.8L400.5 312.5L399.6 314.5L398.2 316.4L397.3 318.5L397.1 321.9L396.5 325.3L395.9 328.8L395.4 332.2L394.8 335.7L394.6 338.5L395.4 340.2L397.7 339.7L399.9 339.1L402.2 340.0L403.4 341.2L405.1 339.7L406.3 337.7L407.4 335.7L408.0 333.4L407.4 331.1L405.7 330.5L403.4 329.7L404.9 327.6L405.7 325.6L406.5 327.4L407.4 327.6L408.0 325.3L409.5 323.6L410.8 321.9L411.4 319.6L412.6 320.2L412.6 322.5L413.7 323.6L414.5 321.9L414.9 319.4L416.3 318.5L418.3 318.7L419.4 320.2L420.2 321.7L421.2 319.6L420.9 317.3L420.0 315.0L418.9 312.7L417.1 311.0L414.9 310.5L412.6 311.0L411.4 310.2L413.1 309.3L415.4 308.7L417.7 308.2L418.9 307.0L417.9 305.3L418.6 305.0L420.0 307.6L421.7 309.3L423.5 311.0L425.2 312.2L426.9 311.6L428.0 309.9L428.6 307.6L427.8 305.3L429.2 304.2L430.9 304.7L432.1 306.4L434.3 305.9L434.3 326.5L431.5 327.1L429.2 326.5L427.5 327.6L428.0 330.5L429.8 333.4L431.7 335.9L434.3 337.4L434.3 339.1L431.5 337.9L429.2 335.4L427.1 332.5L426.7 335.1L426.0 337.9L425.2 339.8L424.0 339.3L423.2 336.8L422.9 333.6L423.7 330.5L423.5 328.6L424.6 327.1L425.2 324.8L424.0 322.5L422.3 323.6L420.9 324.4L418.9 326.5L417.1 328.8L416.6 332.2L416.0 334.5L414.9 336.8L412.0 337.4L410.3 338.8L411.4 340.5L413.1 342.2L413.7 343.9L412.6 344.3L410.8 343.3L409.1 344.5L407.4 346.2L405.7 347.3L404.0 346.8L403.0 344.5L401.7 342.2L399.4 341.0L397.1 342.2L395.4 344.5L394.2 346.8L394.0 347.3Z" fill="#fdb096"/><path d="M433.7 321.0L436.3 322.8L438.0 321.3L438.8 321.7L439.7 324.8L441.8 325.9L442.7 324.7L443.7 327.6L445.5 330.5L447.2 333.1L448.7 331.1L449.4 331.5L450.1 334.3L452.3 334.7L454.1 333.4L455.8 331.1L456.9 327.1L457.6 327.4L458.3 329.9L459.5 326.5L460.1 327.0L460.9 329.9L462.2 326.5L462.9 326.7L463.6 329.4L465.5 327.6L467.3 325.9L468.4 323.1L469.0 319.6L468.4 316.2L467.8 313.9L469.0 313.3L470.1 315.6L471.3 317.9L472.4 316.2L473.2 317.3L472.8 320.2L472.4 323.1L473.0 325.9L474.1 328.2L474.7 325.3L475.9 324.2L477.0 325.9L478.1 323.1L479.3 320.8L480.4 318.5L481.6 316.8L482.7 316.2L483.1 317.3L482.2 319.6L481.0 321.9L479.9 324.2L478.9 327.1L478.1 329.9L478.7 332.2L478.1 335.1L476.4 337.4L474.1 338.2L471.8 337.4L469.5 336.8L467.3 336.2L465.5 335.1L464.4 336.8L463.2 339.7L462.1 340.8L460.9 339.1L459.8 340.8L458.3 341.4L456.9 340.2L455.8 342.0L454.1 343.1L452.3 342.5L451.2 340.8L449.5 338.5L447.8 336.8L445.5 335.1L443.7 332.8L442.0 330.5L440.3 328.8L438.8 329.7L438.6 328.2L436.9 326.5L435.1 325.9L433.7 326.5Z" fill="#fdb096"/><path d="M470.1 347.3L470.7 342.5L473.0 341.6L477.6 342.0L482.2 341.4L483.5 342.5L484.5 347.3Z" fill="#fdb096"/><path d="M433.7 304.2L435.4 304.5L436.3 305.9L435.7 307.6L434.9 310.5L435.1 313.9L434.6 317.3L435.1 320.8L433.7 321.3Z" fill="#fdb096"/><path d="M384.5 346.7L381.6 347.9L379.3 348.5L380.5 350.2L381.3 352.5L382.7 353.6L385.0 353.1L386.8 351.4L388.1 349.9L388.8 352.5L388.5 355.9L388.1 358.8L389.3 359.1L390.4 357.7L391.3 355.9L392.7 355.4L393.4 352.5L393.6 349.6L394.2 346.7Z" fill="#fdb096"/><path d="M403.7 346.7L404.2 347.7L406.3 347.9L407.4 346.7Z" fill="#fdb096"/><path d="M441.5 361.3L443.2 359.0L444.9 360.2L446.0 357.3L447.2 359.0L448.3 356.7L449.5 358.5L451.8 355.0L452.9 357.3L455.2 353.9L456.4 356.7L458.7 354.4L459.8 356.2L461.5 353.3L462.7 355.6L464.4 352.2L465.5 354.4L467.3 350.4L468.4 348.7L470.7 346.7L484.5 346.7L486.2 349.9L487.3 353.3L487.7 356.7L486.5 355.6L485.0 352.7L483.3 351.0L481.0 350.4L478.7 351.6L477.8 353.9L478.1 356.7L479.9 359.6L481.0 361.3L479.3 363.6L478.1 365.9L479.3 368.2L481.6 369.9L483.3 371.1L482.2 372.8L479.9 373.3L478.1 374.5L475.9 374.5L473.6 375.6L471.3 377.4L469.5 379.6L468.4 381.9L468.6 384.8L468.2 386.5L467.5 385.4L466.1 383.1L463.8 381.9L461.5 381.4L459.2 381.9L457.5 383.7L456.4 385.9L455.2 386.5L454.1 383.7L452.9 381.4L451.2 382.5L448.9 383.7L446.6 385.4L444.3 387.1L442.0 389.4L440.3 388.8L439.5 386.5L440.3 384.2L442.0 382.5L443.7 380.8L445.5 378.5L447.8 376.8L448.9 375.1L451.2 375.6L452.9 374.5L455.2 375.1L456.9 373.9L458.7 374.5L460.4 372.8L461.5 370.5L462.7 369.3L464.4 369.9L466.7 369.3L468.4 367.0L469.0 364.8L467.8 363.6L466.1 364.2L463.8 365.3L461.5 367.0L462.1 365.3L460.9 362.5L459.2 361.3L456.9 361.9L454.6 362.5L452.3 363.0L450.1 364.2L447.8 364.8L445.5 364.2L443.2 364.8L441.5 363.0Z" fill="#fdb096"/><g clip-path="url(#lk8)"><ellipse cx="470.5" cy="331.9" rx="10.2" ry="6.8" fill="#ecd0c7" opacity="0.9" filter="url(#b2)"/><ellipse cx="476.2" cy="359.1" rx="5.0" ry="12.5" fill="#eccfc6" opacity="0.9" filter="url(#b2)"/><ellipse cx="430.8" cy="318.3" rx="5.7" ry="10.2" fill="#f4c2b3" opacity="0.8" filter="url(#b2)"/><ellipse cx="441.0" cy="328.5" rx="6.8" ry="4.1" fill="#f2c6b9" opacity="0.7" filter="url(#b2)"/><ellipse cx="418.4" cy="307.6" rx="0.5" ry="1.6" fill="#8fb0ea" opacity="0.9" filter="url(#b0)"/></g>
<rect x="373.5" y="299.3" width="120.3" height="94.4" fill="none" stroke="#444" stroke-width="0.75"/>
<path d="M391.4 393.7v2.6M424.9 393.7v2.6M459.0 393.7v2.6M492.8 393.7v2.6M373.5 312.1h-2.6M373.5 358.9h-2.6" stroke="#222" stroke-width="0.8" fill="none"/>
<text x="391.4" y="403.9" font-size="6.86" text-anchor="middle">114.00</text>
<text x="424.9" y="403.9" font-size="6.86" text-anchor="middle">114.05</text>
<text x="459.0" y="403.9" font-size="6.86" text-anchor="middle">114.10</text>
<text x="492.8" y="403.9" font-size="6.86" text-anchor="middle">114.15</text>
<text x="369.0" y="315.0" font-size="6.840000000000001" text-anchor="end">30.55</text>
<text x="369.0" y="361.8" font-size="6.840000000000001" text-anchor="end">30.50</text>
<text x="433.6" y="295.6" font-size="8.2" text-anchor="middle">Houguan Lake</text>
<text x="433.6" y="413.0" font-size="6.94" text-anchor="middle">Longitude</text>
<text transform="translate(346.6 347.4) rotate(-90)" font-size="6.94" text-anchor="middle">Latitude</text>
<text x="482.2" y="310.9" font-size="8.3" text-anchor="middle">(i)</text>
</g>
<defs><linearGradient id="cb" x1="0" y1="1" x2="0" y2="0"><stop offset="0" stop-color="#2f4cc4"/><stop offset="0.167" stop-color="#4f7ae8"/><stop offset="0.333" stop-color="#8fb4fb"/><stop offset="0.5" stop-color="#dddcdc"/><stop offset="0.667" stop-color="#fbb49c"/><stop offset="0.75" stop-color="#fc9474"/><stop offset="0.833" stop-color="#f86a50"/><stop offset="1" stop-color="#d81a2c"/></linearGradient></defs>
<rect x="518.4" y="13.7" width="9.9" height="379.9" fill="url(#cb)" stroke="#222" stroke-opacity="0.55" stroke-width="0.6"/>
<path d="M528.3 393.6h2.2" stroke="#444" stroke-width="0.6"/>
<text x="532.3" y="395.7" font-size="5.55">10</text>
<path d="M528.3 330.3h2.2" stroke="#444" stroke-width="0.6"/>
<text x="532.3" y="332.3" font-size="5.55">15</text>
<path d="M528.3 267.0h2.2" stroke="#444" stroke-width="0.6"/>
<text x="532.3" y="269.0" font-size="5.55">20</text>
<path d="M528.3 203.7h2.2" stroke="#444" stroke-width="0.6"/>
<text x="532.3" y="205.7" font-size="5.55">25</text>
<path d="M528.3 140.3h2.2" stroke="#444" stroke-width="0.6"/>
<text x="532.3" y="142.4" font-size="5.55">30</text>
<path d="M528.3 77.0h2.2" stroke="#444" stroke-width="0.6"/>
<text x="532.3" y="79.1" font-size="5.55">35</text>
<path d="M528.3 13.7h2.2" stroke="#444" stroke-width="0.6"/>
<text x="532.3" y="15.7" font-size="5.55">40</text>
<text transform="translate(545.6 203.6) rotate(-90)" font-size="5.55" text-anchor="middle">Trophic level index (TLI)</text>
</svg>
</body></html>
